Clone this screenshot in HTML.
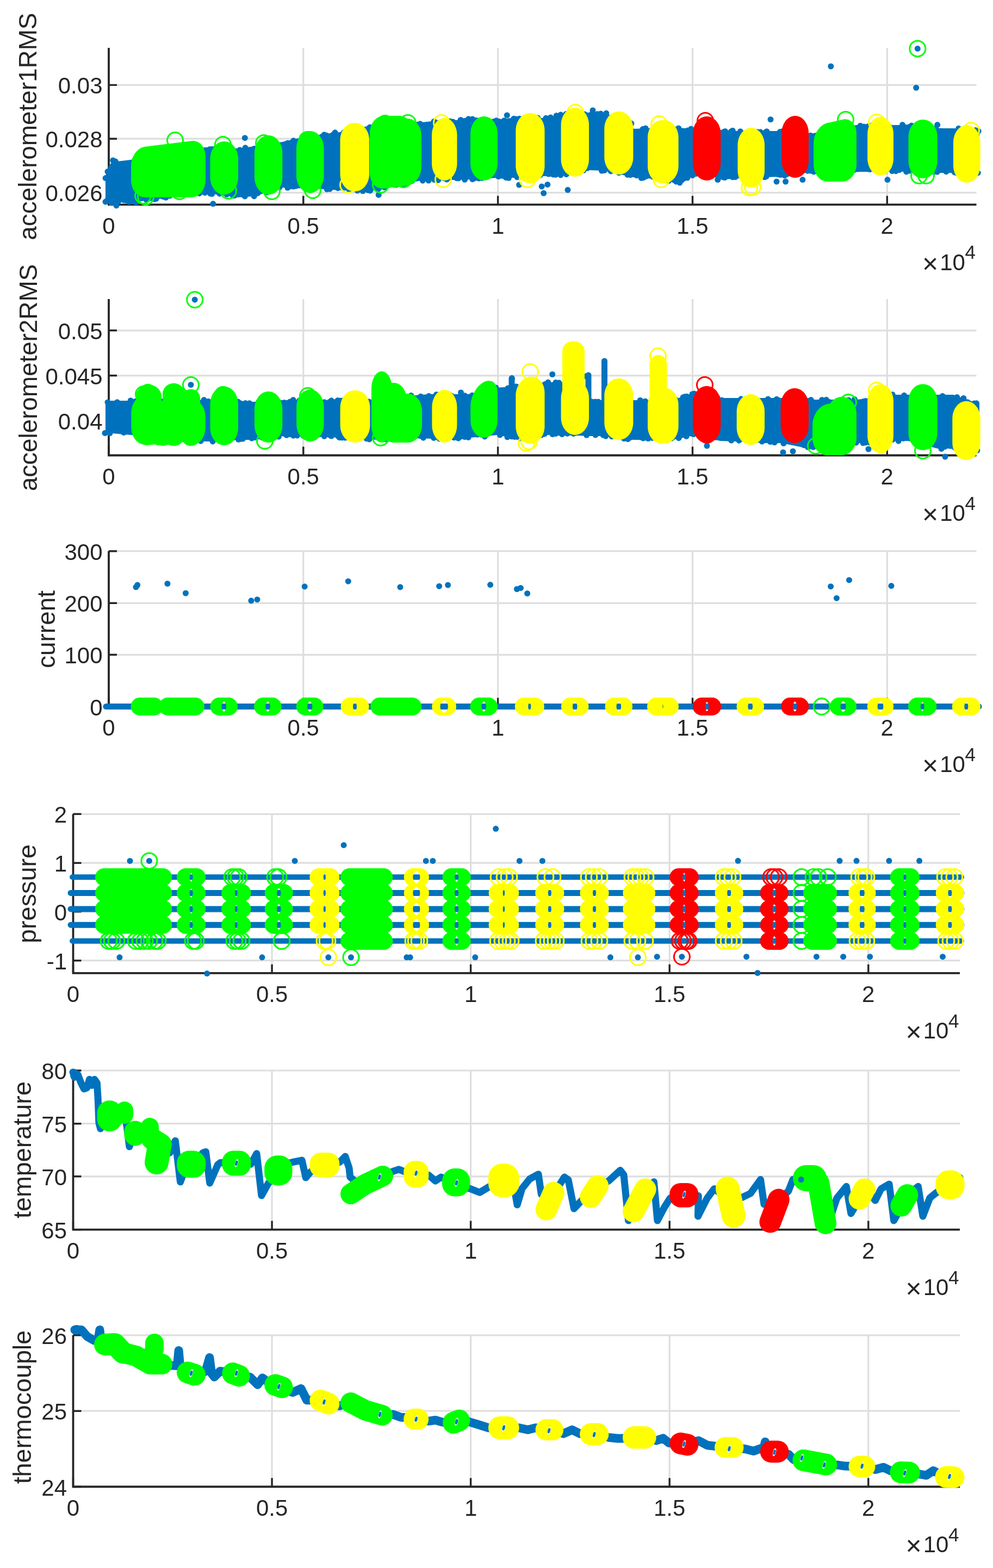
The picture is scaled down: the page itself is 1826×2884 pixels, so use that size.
<!DOCTYPE html>
<html><head><meta charset="utf-8"><title>figure</title>
<style>html,body{margin:0;padding:0;background:#fff;}svg{display:block;}</style></head>
<body><svg width="1826" height="2884" viewBox="0 0 1826 2884" font-family="'Liberation Sans', Arial, Helvetica, sans-serif">
<rect width="1826" height="2884" fill="#fff"/>
<g stroke="#dedede" stroke-width="3.2"><line x1="557.8" y1="88" x2="557.8" y2="376.3" /><line x1="915.6" y1="88" x2="915.6" y2="376.3" /><line x1="1273.5" y1="88" x2="1273.5" y2="376.3" /><line x1="1631.3" y1="88" x2="1631.3" y2="376.3" /><line x1="200" y1="354.4" x2="1795.5" y2="354.4" /><line x1="200" y1="255.2" x2="1795.5" y2="255.2" /><line x1="200" y1="156.4" x2="1795.5" y2="156.4" /></g>
<g stroke="#262626"><path d="M200,88V376.3H1795.5" fill="none" stroke-width="3.8" stroke-linejoin="miter" stroke-linecap="butt"/><path d="M200,354.4h15M200,255.2h15M200,156.4h15M200.0,376.3v-16M557.8,376.3v-16M915.6,376.3v-16M1273.5,376.3v-16M1631.3,376.3v-16" fill="none" stroke-width="3.4"/></g>
<path d="M194,323 200,305 206,298 240,294 300,277 378,271 386,271 438,273 468,269 519,261 545,255 595,247 625,243 680,231 775,225 794,223 840,221 865,219 915,220 948,217 1001,217 1031,211 1083,207 1111,210 1140,227 1164,237 1191,236 1247,235 1274,237 1325,239 1356,241 1406,241 1437,241 1487,247 1496,245 1575,230 1595,230 1643,230 1670,230 1724,236 1753,236 1801,238 L1801,319 1753,318 1724,318 1670,316 1643,315 1595,316 1575,316 1487,316 1437,325 1406,326 1356,326 1325,326 1274,323 1247,335 1191,328 1164,326 1111,314 1083,313 1031,322 1001,324 948,327 915,327 865,330 840,331 794,331 775,332 730,341 680,352 625,350 595,348 545,345 519,345 468,361 438,363 386,356 378,356 300,365 240,371 194,373Z" fill="#0072bd"/>
<g fill="#0072bd"><circle cx="194.1" cy="327.6" r="5.5"/><circle cx="194" cy="371.2" r="5.5"/><circle cx="198" cy="315.6" r="5.5"/><circle cx="197.3" cy="368.3" r="5.5"/><circle cx="204.9" cy="372.9" r="5.5"/><circle cx="208.6" cy="370.2" r="5.5"/><circle cx="212.3" cy="296.9" r="5.5"/><circle cx="212.7" cy="371.8" r="5.5"/><circle cx="218.2" cy="369.5" r="5.5"/><circle cx="227.8" cy="368.1" r="5.5"/><circle cx="232.4" cy="368.5" r="5.5"/><circle cx="237.9" cy="371.1" r="5.5"/><circle cx="242.5" cy="369.1" r="5.5"/><circle cx="248.7" cy="292.6" r="5.5"/><circle cx="255" cy="289.7" r="5.5"/><circle cx="256.1" cy="365.4" r="5.5"/><circle cx="260.1" cy="291.6" r="5.5"/><circle cx="261" cy="364.6" r="5.5"/><circle cx="265" cy="291.6" r="5.5"/><circle cx="269.4" cy="367.7" r="5.5"/><circle cx="276.2" cy="284.7" r="5.5"/><circle cx="275.8" cy="364.3" r="5.5"/><circle cx="278.6" cy="285.5" r="5.5"/><circle cx="279.6" cy="364.1" r="5.5"/><circle cx="284.4" cy="366.3" r="5.5"/><circle cx="288.8" cy="284.4" r="5.5"/><circle cx="287.3" cy="365.3" r="5.5"/><circle cx="295.6" cy="282.8" r="5.5"/><circle cx="298.5" cy="282" r="5.5"/><circle cx="299.8" cy="361.5" r="5.5"/><circle cx="305" cy="363.3" r="5.5"/><circle cx="309.1" cy="280.5" r="5.5"/><circle cx="312.1" cy="360" r="5.5"/><circle cx="317.2" cy="277.2" r="5.5"/><circle cx="322.2" cy="280.2" r="5.5"/><circle cx="326.2" cy="357" r="5.5"/><circle cx="337.4" cy="357.5" r="5.5"/><circle cx="344" cy="277.2" r="5.5"/><circle cx="356.9" cy="277.1" r="5.5"/><circle cx="366.6" cy="355.7" r="5.5"/><circle cx="376.8" cy="354.4" r="5.5"/><circle cx="381.6" cy="351.2" r="5.5"/><circle cx="385.9" cy="274.4" r="5.5"/><circle cx="386.7" cy="356.1" r="5.5"/><circle cx="390.1" cy="274.4" r="5.5"/><circle cx="389.8" cy="356.6" r="5.5"/><circle cx="396.9" cy="272.7" r="5.5"/><circle cx="400.5" cy="276.1" r="5.5"/><circle cx="403.7" cy="356.2" r="5.5"/><circle cx="416.9" cy="274.2" r="5.5"/><circle cx="417" cy="357.5" r="5.5"/><circle cx="422.7" cy="276.5" r="5.5"/><circle cx="427" cy="276.9" r="5.5"/><circle cx="428.3" cy="359.8" r="5.5"/><circle cx="431.4" cy="359.7" r="5.5"/><circle cx="434.5" cy="357.9" r="5.5"/><circle cx="441" cy="275.7" r="5.5"/><circle cx="447.6" cy="358.3" r="5.5"/><circle cx="451.1" cy="271.8" r="5.5"/><circle cx="450.3" cy="361" r="5.5"/><circle cx="467.4" cy="273.6" r="5.5"/><circle cx="467.3" cy="360.9" r="5.5"/><circle cx="473.7" cy="355.4" r="5.5"/><circle cx="485.9" cy="271.2" r="5.5"/><circle cx="491.1" cy="353.7" r="5.5"/><circle cx="494.5" cy="267.3" r="5.5"/><circle cx="500.2" cy="263.9" r="5.5"/><circle cx="503.9" cy="263.7" r="5.5"/><circle cx="503.3" cy="348.9" r="5.5"/><circle cx="514.1" cy="344.3" r="5.5"/><circle cx="528.8" cy="263.3" r="5.5"/><circle cx="528.8" cy="345.3" r="5.5"/><circle cx="533.3" cy="342.8" r="5.5"/><circle cx="539.6" cy="258.8" r="5.5"/><circle cx="539.3" cy="343.1" r="5.5"/><circle cx="543.7" cy="342.3" r="5.5"/><circle cx="550.4" cy="341" r="5.5"/><circle cx="559.5" cy="255.5" r="5.5"/><circle cx="563" cy="342.4" r="5.5"/><circle cx="569.1" cy="254" r="5.5"/><circle cx="569.8" cy="342.1" r="5.5"/><circle cx="573.8" cy="252.7" r="5.5"/><circle cx="574.1" cy="344" r="5.5"/><circle cx="578.9" cy="252.5" r="5.5"/><circle cx="591.5" cy="251.6" r="5.5"/><circle cx="596.2" cy="247.7" r="5.5"/><circle cx="601.3" cy="249.6" r="5.5"/><circle cx="601.1" cy="348" r="5.5"/><circle cx="606.4" cy="347.5" r="5.5"/><circle cx="610" cy="249.6" r="5.5"/><circle cx="613.6" cy="246.9" r="5.5"/><circle cx="616.1" cy="243.8" r="5.5"/><circle cx="621.3" cy="345.9" r="5.5"/><circle cx="632.5" cy="243.6" r="5.5"/><circle cx="636" cy="242.5" r="5.5"/><circle cx="643.2" cy="240.9" r="5.5"/><circle cx="642.1" cy="348.5" r="5.5"/><circle cx="657.2" cy="350.6" r="5.5"/><circle cx="667.2" cy="351.3" r="5.5"/><circle cx="676.5" cy="349.5" r="5.5"/><circle cx="680.1" cy="234" r="5.5"/><circle cx="680.7" cy="350.7" r="5.5"/><circle cx="690.3" cy="233.4" r="5.5"/><circle cx="695.6" cy="347.7" r="5.5"/><circle cx="698.5" cy="230.4" r="5.5"/><circle cx="698.6" cy="344.1" r="5.5"/><circle cx="706.9" cy="344.4" r="5.5"/><circle cx="719.4" cy="339.2" r="5.5"/><circle cx="725.3" cy="339.5" r="5.5"/><circle cx="729.1" cy="339.7" r="5.5"/><circle cx="735.2" cy="228.7" r="5.5"/><circle cx="734.3" cy="335.3" r="5.5"/><circle cx="739.2" cy="338.4" r="5.5"/><circle cx="744.9" cy="338.4" r="5.5"/><circle cx="749.8" cy="230.1" r="5.5"/><circle cx="749.8" cy="336.7" r="5.5"/><circle cx="754.6" cy="228.3" r="5.5"/><circle cx="753.4" cy="334" r="5.5"/><circle cx="758.1" cy="228.1" r="5.5"/><circle cx="758" cy="332.7" r="5.5"/><circle cx="764.9" cy="230.4" r="5.5"/><circle cx="768.7" cy="229.3" r="5.5"/><circle cx="772.7" cy="227.8" r="5.5"/><circle cx="777.3" cy="332.2" r="5.5"/><circle cx="783.6" cy="328" r="5.5"/><circle cx="789.3" cy="326.7" r="5.5"/><circle cx="798" cy="223.5" r="5.5"/><circle cx="798.6" cy="330.6" r="5.5"/><circle cx="802" cy="225.6" r="5.5"/><circle cx="804.7" cy="226.5" r="5.5"/><circle cx="805.5" cy="331.4" r="5.5"/><circle cx="810" cy="226.9" r="5.5"/><circle cx="809.3" cy="326.5" r="5.5"/><circle cx="815.2" cy="224.6" r="5.5"/><circle cx="816.4" cy="327.6" r="5.5"/><circle cx="821.5" cy="224.9" r="5.5"/><circle cx="821.7" cy="330" r="5.5"/><circle cx="827.2" cy="223" r="5.5"/><circle cx="832.8" cy="224" r="5.5"/><circle cx="839.7" cy="327.7" r="5.5"/><circle cx="844.3" cy="225.1" r="5.5"/><circle cx="843.1" cy="327.9" r="5.5"/><circle cx="847.6" cy="220.9" r="5.5"/><circle cx="854.7" cy="222.5" r="5.5"/><circle cx="854.6" cy="330.3" r="5.5"/><circle cx="858.2" cy="222" r="5.5"/><circle cx="868.9" cy="219" r="5.5"/><circle cx="868.8" cy="329.7" r="5.5"/><circle cx="872.1" cy="328.2" r="5.5"/><circle cx="876.1" cy="221.6" r="5.5"/><circle cx="881.1" cy="222.5" r="5.5"/><circle cx="880.3" cy="328.1" r="5.5"/><circle cx="886.7" cy="327.4" r="5.5"/><circle cx="908.1" cy="223.5" r="5.5"/><circle cx="912.7" cy="221.8" r="5.5"/><circle cx="914.2" cy="322.4" r="5.5"/><circle cx="917.8" cy="223.5" r="5.5"/><circle cx="916.6" cy="324.5" r="5.5"/><circle cx="922.1" cy="323" r="5.5"/><circle cx="927.1" cy="221.7" r="5.5"/><circle cx="926.1" cy="323.5" r="5.5"/><circle cx="930.5" cy="326.5" r="5.5"/><circle cx="936.1" cy="222.7" r="5.5"/><circle cx="935.4" cy="327.3" r="5.5"/><circle cx="939.3" cy="222.4" r="5.5"/><circle cx="944.8" cy="218.3" r="5.5"/><circle cx="949.4" cy="219.1" r="5.5"/><circle cx="951" cy="325.8" r="5.5"/><circle cx="955.2" cy="218.3" r="5.5"/><circle cx="956.6" cy="324.4" r="5.5"/><circle cx="961.5" cy="322.1" r="5.5"/><circle cx="968.1" cy="221.2" r="5.5"/><circle cx="971.2" cy="217" r="5.5"/><circle cx="970.7" cy="326" r="5.5"/><circle cx="976.7" cy="322.7" r="5.5"/><circle cx="983.5" cy="217.6" r="5.5"/><circle cx="982.9" cy="320.9" r="5.5"/><circle cx="988.8" cy="216.9" r="5.5"/><circle cx="989.1" cy="323.6" r="5.5"/><circle cx="993.4" cy="322" r="5.5"/><circle cx="1003.9" cy="217.3" r="5.5"/><circle cx="1009.3" cy="219.4" r="5.5"/><circle cx="1008.6" cy="320.1" r="5.5"/><circle cx="1012.4" cy="216" r="5.5"/><circle cx="1013.2" cy="319.6" r="5.5"/><circle cx="1017.5" cy="321.1" r="5.5"/><circle cx="1023.2" cy="212.7" r="5.5"/><circle cx="1021.7" cy="321.3" r="5.5"/><circle cx="1028.2" cy="215.6" r="5.5"/><circle cx="1031" cy="211.1" r="5.5"/><circle cx="1030.9" cy="321.9" r="5.5"/><circle cx="1036.7" cy="214.3" r="5.5"/><circle cx="1040.8" cy="209.8" r="5.5"/><circle cx="1041.4" cy="320.7" r="5.5"/><circle cx="1049.9" cy="212.6" r="5.5"/><circle cx="1050" cy="316.5" r="5.5"/><circle cx="1065.2" cy="208.6" r="5.5"/><circle cx="1072.6" cy="211.9" r="5.5"/><circle cx="1073" cy="313.3" r="5.5"/><circle cx="1075.4" cy="210.2" r="5.5"/><circle cx="1080.2" cy="309.2" r="5.5"/><circle cx="1087.9" cy="209.9" r="5.5"/><circle cx="1093.2" cy="213" r="5.5"/><circle cx="1098.4" cy="209.7" r="5.5"/><circle cx="1104.6" cy="209.1" r="5.5"/><circle cx="1106.5" cy="314" r="5.5"/><circle cx="1111.5" cy="213.6" r="5.5"/><circle cx="1111.3" cy="313.4" r="5.5"/><circle cx="1114.1" cy="212.2" r="5.5"/><circle cx="1114.3" cy="310.7" r="5.5"/><circle cx="1119.4" cy="216.2" r="5.5"/><circle cx="1123.3" cy="314.9" r="5.5"/><circle cx="1127.5" cy="222.8" r="5.5"/><circle cx="1134.3" cy="227.2" r="5.5"/><circle cx="1138.1" cy="230.3" r="5.5"/><circle cx="1138" cy="317.5" r="5.5"/><circle cx="1143.7" cy="232.4" r="5.5"/><circle cx="1154" cy="321.4" r="5.5"/><circle cx="1158.8" cy="238.5" r="5.5"/><circle cx="1159.2" cy="321.7" r="5.5"/><circle cx="1163.4" cy="241.5" r="5.5"/><circle cx="1170.6" cy="322.7" r="5.5"/><circle cx="1179.4" cy="327.4" r="5.5"/><circle cx="1181.9" cy="237.6" r="5.5"/><circle cx="1183.1" cy="326.8" r="5.5"/><circle cx="1187.1" cy="235.9" r="5.5"/><circle cx="1187.7" cy="324.4" r="5.5"/><circle cx="1196.4" cy="240.5" r="5.5"/><circle cx="1200.5" cy="325.1" r="5.5"/><circle cx="1207.4" cy="326.1" r="5.5"/><circle cx="1212.9" cy="239.1" r="5.5"/><circle cx="1214.4" cy="330.6" r="5.5"/><circle cx="1219.9" cy="240.1" r="5.5"/><circle cx="1218.6" cy="327.8" r="5.5"/><circle cx="1223.1" cy="328.4" r="5.5"/><circle cx="1229.7" cy="332.7" r="5.5"/><circle cx="1234.3" cy="239.8" r="5.5"/><circle cx="1239.8" cy="331.4" r="5.5"/><circle cx="1243" cy="237.9" r="5.5"/><circle cx="1243.5" cy="334" r="5.5"/><circle cx="1247.8" cy="235.9" r="5.5"/><circle cx="1247.4" cy="330.9" r="5.5"/><circle cx="1253.8" cy="331.1" r="5.5"/><circle cx="1257.8" cy="328" r="5.5"/><circle cx="1264.3" cy="240.1" r="5.5"/><circle cx="1264" cy="327.1" r="5.5"/><circle cx="1270.7" cy="237.1" r="5.5"/><circle cx="1273.3" cy="322.5" r="5.5"/><circle cx="1279.5" cy="319.5" r="5.5"/><circle cx="1283.9" cy="240.2" r="5.5"/><circle cx="1289.5" cy="319" r="5.5"/><circle cx="1295" cy="238.8" r="5.5"/><circle cx="1302.9" cy="321.5" r="5.5"/><circle cx="1307" cy="240.7" r="5.5"/><circle cx="1307" cy="320.4" r="5.5"/><circle cx="1312.6" cy="238.9" r="5.5"/><circle cx="1319.2" cy="322.7" r="5.5"/><circle cx="1323.2" cy="325.1" r="5.5"/><circle cx="1330.1" cy="242.9" r="5.5"/><circle cx="1329.7" cy="325.9" r="5.5"/><circle cx="1333.4" cy="241.4" r="5.5"/><circle cx="1332.8" cy="326.5" r="5.5"/><circle cx="1339.3" cy="324" r="5.5"/><circle cx="1344.7" cy="241.7" r="5.5"/><circle cx="1344.8" cy="324.4" r="5.5"/><circle cx="1347.2" cy="240.2" r="5.5"/><circle cx="1347.3" cy="325.8" r="5.5"/><circle cx="1352.1" cy="325.6" r="5.5"/><circle cx="1356.5" cy="322" r="5.5"/><circle cx="1361.4" cy="241.7" r="5.5"/><circle cx="1361.6" cy="323.5" r="5.5"/><circle cx="1372" cy="244.3" r="5.5"/><circle cx="1372.4" cy="321.1" r="5.5"/><circle cx="1376.3" cy="245.6" r="5.5"/><circle cx="1379.9" cy="245.7" r="5.5"/><circle cx="1381.2" cy="325" r="5.5"/><circle cx="1386.9" cy="242.6" r="5.5"/><circle cx="1388" cy="322.8" r="5.5"/><circle cx="1392.4" cy="242.7" r="5.5"/><circle cx="1392.4" cy="321.8" r="5.5"/><circle cx="1398.3" cy="242.8" r="5.5"/><circle cx="1398" cy="324.9" r="5.5"/><circle cx="1405.9" cy="244.4" r="5.5"/><circle cx="1406.1" cy="325.8" r="5.5"/><circle cx="1409.9" cy="241.7" r="5.5"/><circle cx="1409.3" cy="324.3" r="5.5"/><circle cx="1430.7" cy="320.7" r="5.5"/><circle cx="1434.2" cy="242.6" r="5.5"/><circle cx="1435.1" cy="321.6" r="5.5"/><circle cx="1438.7" cy="241.6" r="5.5"/><circle cx="1442.4" cy="243.5" r="5.5"/><circle cx="1442.9" cy="322.8" r="5.5"/><circle cx="1447.7" cy="320" r="5.5"/><circle cx="1450.3" cy="244.9" r="5.5"/><circle cx="1455.5" cy="242.9" r="5.5"/><circle cx="1456.8" cy="319.7" r="5.5"/><circle cx="1460" cy="319.2" r="5.5"/><circle cx="1467.1" cy="249.3" r="5.5"/><circle cx="1472.2" cy="315.1" r="5.5"/><circle cx="1479.6" cy="312.7" r="5.5"/><circle cx="1481.9" cy="247.9" r="5.5"/><circle cx="1485.3" cy="250.1" r="5.5"/><circle cx="1484.9" cy="314.2" r="5.5"/><circle cx="1490.4" cy="249.3" r="5.5"/><circle cx="1490.7" cy="314.1" r="5.5"/><circle cx="1496.5" cy="315.9" r="5.5"/><circle cx="1510.5" cy="313" r="5.5"/><circle cx="1514" cy="312.4" r="5.5"/><circle cx="1518.9" cy="240.9" r="5.5"/><circle cx="1518" cy="311.6" r="5.5"/><circle cx="1524.6" cy="243.3" r="5.5"/><circle cx="1524" cy="315.8" r="5.5"/><circle cx="1530.7" cy="240.6" r="5.5"/><circle cx="1536.2" cy="312.8" r="5.5"/><circle cx="1546.8" cy="314.4" r="5.5"/><circle cx="1552.5" cy="314.7" r="5.5"/><circle cx="1555.6" cy="236.2" r="5.5"/><circle cx="1563.9" cy="234" r="5.5"/><circle cx="1570.4" cy="312.6" r="5.5"/><circle cx="1576.9" cy="311.1" r="5.5"/><circle cx="1582.1" cy="231.2" r="5.5"/><circle cx="1588.5" cy="232.9" r="5.5"/><circle cx="1596" cy="232.5" r="5.5"/><circle cx="1598.5" cy="234.6" r="5.5"/><circle cx="1599.2" cy="311.6" r="5.5"/><circle cx="1603.7" cy="230.3" r="5.5"/><circle cx="1607.6" cy="231.5" r="5.5"/><circle cx="1606.7" cy="311.1" r="5.5"/><circle cx="1613.4" cy="230.5" r="5.5"/><circle cx="1615.2" cy="311.7" r="5.5"/><circle cx="1620.5" cy="233.9" r="5.5"/><circle cx="1619.8" cy="313.5" r="5.5"/><circle cx="1627.2" cy="315.1" r="5.5"/><circle cx="1633.9" cy="233.5" r="5.5"/><circle cx="1632.3" cy="311.1" r="5.5"/><circle cx="1636.5" cy="233.6" r="5.5"/><circle cx="1636.8" cy="310.2" r="5.5"/><circle cx="1640.7" cy="314.5" r="5.5"/><circle cx="1647.4" cy="314.7" r="5.5"/><circle cx="1653.7" cy="312.6" r="5.5"/><circle cx="1659.5" cy="229.6" r="5.5"/><circle cx="1662.3" cy="233.1" r="5.5"/><circle cx="1666.6" cy="315.9" r="5.5"/><circle cx="1671" cy="233.7" r="5.5"/><circle cx="1671.8" cy="314.1" r="5.5"/><circle cx="1676.2" cy="231.1" r="5.5"/><circle cx="1676.9" cy="311.3" r="5.5"/><circle cx="1681.7" cy="233.8" r="5.5"/><circle cx="1686.4" cy="312.2" r="5.5"/><circle cx="1693.7" cy="233.2" r="5.5"/><circle cx="1693.2" cy="312.8" r="5.5"/><circle cx="1700.9" cy="238.4" r="5.5"/><circle cx="1701.5" cy="314.2" r="5.5"/><circle cx="1707" cy="238.5" r="5.5"/><circle cx="1712.4" cy="234.8" r="5.5"/><circle cx="1718.4" cy="237.1" r="5.5"/><circle cx="1717.5" cy="316.1" r="5.5"/><circle cx="1722.4" cy="238.9" r="5.5"/><circle cx="1723.5" cy="316.2" r="5.5"/><circle cx="1730" cy="241" r="5.5"/><circle cx="1739.9" cy="315.7" r="5.5"/><circle cx="1755.4" cy="316.9" r="5.5"/><circle cx="1758.7" cy="317.9" r="5.5"/><circle cx="1762.7" cy="236.3" r="5.5"/><circle cx="1768.1" cy="240.5" r="5.5"/><circle cx="1775.5" cy="240.8" r="5.5"/><circle cx="1774.4" cy="314" r="5.5"/><circle cx="1778.6" cy="241.1" r="5.5"/><circle cx="1777.2" cy="315.7" r="5.5"/><circle cx="1787.8" cy="318.5" r="5.5"/><circle cx="1793.8" cy="239.6" r="5.5"/><circle cx="1793.1" cy="315.6" r="5.5"/><circle cx="1799.1" cy="241.2" r="5.5"/><circle cx="1798.2" cy="317.8" r="5.5"/></g>
<g fill="#0072bd"><circle cx="207.7" cy="295" r="5.5"/><circle cx="391.8" cy="374.8" r="5.5"/><circle cx="450.3" cy="253.7" r="5.5"/><circle cx="696.2" cy="358.4" r="5.5"/><circle cx="788" cy="332" r="5.5"/><circle cx="847" cy="220.7" r="5.5"/><circle cx="861.5" cy="218.8" r="5.5"/><circle cx="932.3" cy="212" r="5.5"/><circle cx="954.6" cy="340" r="5.5"/><circle cx="996.2" cy="342.9" r="5.5"/><circle cx="1006.8" cy="339.4" r="5.5"/><circle cx="999.7" cy="355.3" r="5.5"/><circle cx="1044" cy="349.3" r="5.5"/><circle cx="1090" cy="203" r="5.5"/><circle cx="1114.8" cy="208.3" r="5.5"/><circle cx="1160.9" cy="227.1" r="5.5"/><circle cx="1319.8" cy="330.6" r="5.5"/><circle cx="1417" cy="219.7" r="5.5"/><circle cx="1428" cy="334" r="5.5"/><circle cx="1444.6" cy="334" r="5.5"/><circle cx="1475.9" cy="330.6" r="5.5"/><circle cx="1632" cy="330.6" r="5.5"/><circle cx="1723.7" cy="229.6" r="5.5"/><circle cx="1527.8" cy="122" r="5.5"/><circle cx="1684.7" cy="161.3" r="5.5"/><circle cx="1687.3" cy="89.4" r="5.5"/><circle cx="205" cy="372" r="5.5"/><circle cx="214" cy="378" r="5.5"/><circle cx="250" cy="372" r="5.5"/><circle cx="1250" cy="336" r="5.5"/></g>
<path d="M241,305C241,287.3 252.6,271.6 267,269.8L352,259.2C366.4,257.4 378,270.3 378,288L378,331C378,348.7 366.4,363 352,363L267,363C252.6,363 241,348.7 241,331Z" fill="#00ff00"/>
<path d="M386.5,292C386.5,274.3 398,260 412.2,260L412.2,260C426.5,260 438,274.3 438,292L438,326C438,343.7 426.5,358 412.2,358L412.2,358C398,358 386.5,343.7 386.5,326Z" fill="#00ff00"/>
<path d="M468,281C468,263.3 479.5,249 493.6,249L493.6,249C507.8,249 519.3,263.3 519.3,281L519.3,326C519.3,343.7 507.8,358 493.6,358L493.6,358C479.5,358 468,343.7 468,326Z" fill="#00ff00"/>
<path d="M545,273C545,255.3 556.3,241 570.2,241L570.2,241C584.2,241 595.5,255.3 595.5,273L595.5,323C595.5,340.7 584.2,355 570.2,355L570.2,355C556.3,355 545,340.7 545,323Z" fill="#00ff00"/>
<path d="M625.5,258C625.5,240.3 637.1,226 651.5,226L653,226C667.4,226 679,240.3 679,258L679,320C679,337.7 667.4,352 653,352L651.5,352C637.1,352 625.5,337.7 625.5,320Z" fill="#ffff00"/>
<path d="M680,250C680,232.3 691.6,218 706,218L749,218C763.4,218 775,232.3 775,250L775,306C775,323.7 763.4,339.5 749,341.3L706,346.7C691.6,348.5 680,335.7 680,318Z" fill="#00ff00"/>
<path d="M794,249C794,231.3 804.4,217 817.2,217L817.2,217C830.1,217 840.5,231.3 840.5,249L840.5,300C840.5,317.7 830.1,332 817.2,332L817.2,332C804.4,332 794,317.7 794,300Z" fill="#ffff00"/>
<path d="M865,246C865,228.3 876.2,214 890,214L890,214C903.8,214 915,228.3 915,246L915,300C915,317.7 903.8,332 890,332L890,332C876.2,332 865,317.7 865,300Z" fill="#00ff00"/>
<path d="M948.4,240C948.4,222.3 960,208 974.4,208L975.5,208C989.9,208 1001.5,222.3 1001.5,240L1001.5,305C1001.5,322.7 989.9,337 975.5,337L974.4,337C960,337 948.4,322.7 948.4,305Z" fill="#ffff00"/>
<path d="M680,245C680,227.3 691.6,213 706,213L734,213C748.4,213 760,227.3 760,245L760,268C760,285.7 748.4,300 734,300L706,300C691.6,300 680,285.7 680,268Z" fill="#00ff00"/>
<path d="M1031.6,230C1031.6,212.3 1043.1,198 1057.3,198L1057.3,198C1071.5,198 1083,212.3 1083,230L1083,293C1083,310.7 1071.5,325 1057.3,325L1057.3,325C1043.1,325 1031.6,310.7 1031.6,293Z" fill="#ffff00"/>
<path d="M1111.3,237C1111.3,219.3 1122.9,205 1137.3,205L1138.4,205C1152.8,205 1164.4,219.3 1164.4,237L1164.4,289C1164.4,306.7 1152.8,321 1138.4,321L1137.3,321C1122.9,321 1111.3,306.7 1111.3,289Z" fill="#ffff00"/>
<path d="M1191,253C1191,235.3 1202.6,221 1217,221L1221.6,221C1236,221 1247.6,235.3 1247.6,253L1247.6,305C1247.6,322.7 1236,337 1221.6,337L1217,337C1202.6,337 1191,322.7 1191,305Z" fill="#ffff00"/>
<path d="M1274,246C1274,228.3 1285.5,214 1299.7,214L1299.7,214C1313.8,214 1325.3,228.3 1325.3,246L1325.3,300C1325.3,317.7 1313.8,332 1299.7,332L1299.7,332C1285.5,332 1274,317.7 1274,300Z" fill="#ff0000"/>
<path d="M1356.5,267C1356.5,249.3 1367.6,235 1381.2,235L1381.2,235C1394.9,235 1406,249.3 1406,267L1406,313C1406,330.7 1394.9,345 1381.2,345L1381.2,345C1367.6,345 1356.5,330.7 1356.5,313Z" fill="#ffff00"/>
<path d="M1437.3,245C1437.3,227.3 1448.4,213 1462.2,213L1462.2,213C1475.9,213 1487,227.3 1487,245L1487,295C1487,312.7 1475.9,327 1462.2,327L1462.2,327C1448.4,327 1437.3,312.7 1437.3,295Z" fill="#ff0000"/>
<path d="M1496,264C1496,246.3 1507.6,229.3 1522,226.1L1549,219.9C1563.4,216.7 1575,228.3 1575,246L1575,302C1575,319.7 1563.4,334 1549,334L1522,334C1507.6,334 1496,319.7 1496,302Z" fill="#00ff00"/>
<path d="M1595.2,247C1595.2,229.3 1605.9,215 1619.1,215L1619.1,215C1632.3,215 1643,229.3 1643,247L1643,291C1643,308.7 1632.3,323 1619.1,323L1619.1,323C1605.9,323 1595.2,308.7 1595.2,291Z" fill="#ffff00"/>
<path d="M1670.5,252C1670.5,234.3 1682.1,220 1696.5,220L1697.7,220C1712.1,220 1723.7,234.3 1723.7,252L1723.7,296C1723.7,313.7 1712.1,328 1697.7,328L1696.5,328C1682.1,328 1670.5,313.7 1670.5,296Z" fill="#00ff00"/>
<path d="M1753,262C1753,244.3 1764.1,230 1777.8,230L1777.8,230C1791.6,230 1802.7,244.3 1802.7,262L1802.7,304C1802.7,321.7 1791.6,336 1777.8,336L1777.8,336C1764.1,336 1753,321.7 1753,304Z" fill="#ffff00"/>
<g fill="none" stroke="#00ff00" stroke-width="3"><circle cx="322" cy="258" r="14.5"/><circle cx="263" cy="360" r="14.5"/><circle cx="268" cy="362" r="14.5"/><circle cx="330" cy="352" r="14.5"/><circle cx="420" cy="351" r="14.5"/><circle cx="410" cy="266" r="14.5"/><circle cx="500" cy="352" r="14.5"/><circle cx="485" cy="263" r="14.5"/><circle cx="565" cy="257" r="14.5"/><circle cx="575" cy="350" r="14.5"/><circle cx="708" cy="227" r="14.5"/><circle cx="750" cy="226" r="14.5"/><circle cx="700" cy="340" r="14.5"/><circle cx="742" cy="330" r="14.5"/><circle cx="1555" cy="220" r="14.5"/><circle cx="1690" cy="323" r="14.5"/><circle cx="1687.3" cy="89.4" r="14.5"/><circle cx="1703" cy="323" r="14.5"/></g>
<g fill="none" stroke="#ffff00" stroke-width="3"><circle cx="640" cy="340" r="14.5"/><circle cx="815" cy="330" r="14.5"/><circle cx="812" cy="226" r="14.5"/><circle cx="970" cy="330" r="14.5"/><circle cx="1058" cy="207" r="14.5"/><circle cx="1216" cy="330" r="14.5"/><circle cx="1378" cy="345" r="14.5"/><circle cx="1384" cy="344" r="14.5"/><circle cx="1612" cy="225" r="14.5"/><circle cx="1786" cy="240" r="14.5"/><circle cx="1212" cy="228" r="14.5"/></g>
<g fill="none" stroke="#ff0000" stroke-width="3"><circle cx="1297" cy="222" r="14.5"/></g>
<g font-size="42" fill="#262626"><text x="188.5" y="370.4" text-anchor="end">0.026</text><text x="188.5" y="271.2" text-anchor="end">0.028</text><text x="188.5" y="172.4" text-anchor="end">0.03</text><text x="200.0" y="429.8" text-anchor="middle">0</text><text x="557.8" y="429.8" text-anchor="middle">0.5</text><text x="915.6" y="429.8" text-anchor="middle">1</text><text x="1273.5" y="429.8" text-anchor="middle">1.5</text><text x="1631.3" y="429.8" text-anchor="middle">2</text><text x="1696.0" y="501.8" font-size="50">×</text><text x="1728.2" y="496.8">10</text><text x="1774.5" y="476.3" font-size="35">4</text><text transform="translate(66.8,232.6) rotate(-90)" text-anchor="middle" font-size="46" textLength="418.1" lengthAdjust="spacingAndGlyphs">accelerometer1RMS</text></g>
<g stroke="#dedede" stroke-width="3.2"><line x1="557.8" y1="550" x2="557.8" y2="837.5" /><line x1="915.6" y1="550" x2="915.6" y2="837.5" /><line x1="1273.5" y1="550" x2="1273.5" y2="837.5" /><line x1="1631.3" y1="550" x2="1631.3" y2="837.5" /><line x1="200" y1="773.8" x2="1795.5" y2="773.8" /><line x1="200" y1="690.8" x2="1795.5" y2="690.8" /><line x1="200" y1="607.8" x2="1795.5" y2="607.8" /></g>
<g stroke="#262626"><path d="M200,550V837.5H1795.5" fill="none" stroke-width="3.8" stroke-linejoin="miter" stroke-linecap="butt"/><path d="M200,773.8h15M200,690.8h15M200,607.8h15M200.0,837.5v-16M557.8,837.5v-16M915.6,837.5v-16M1273.5,837.5v-16M1631.3,837.5v-16" fill="none" stroke-width="3.4"/></g>
<path d="M194,741 200,737 241,737 300,736 378,736 386,736 438,739 468,739 519,736 545,736 595,737 625,737 680,735 775,726 794,725 840,725 865,725 912,713 948,711 1001,703 1031,703 1083,736 1111,736 1164,736 1191,736 1248,732 1274,723 1325,732 1356,732 1406,732 1437,732 1487,732 1494,735 1575,735 1595,733 1643,726 1670,726 1724,726 1753,726 1801,743 L1801,833 1753,825 1724,825 1670,811 1643,811 1595,815 1575,815 1494,826 1487,825 1437,815 1406,815 1356,812 1325,811 1274,801 1248,807 1191,809 1164,809 1111,802 1083,802 1031,800 1001,800 948,807 915,800 865,805 840,807 794,807 775,806 680,809 625,805 595,803 545,802 519,802 468,809 438,809 386,812 378,812 300,807 241,800 194,796Z" fill="#0072bd"/>
<g fill="#0072bd"><circle cx="193" cy="796.5" r="5.5"/><circle cx="198" cy="739.9" r="5.5"/><circle cx="201.9" cy="796.8" r="5.5"/><circle cx="215.5" cy="739.7" r="5.5"/><circle cx="227.6" cy="795.5" r="5.5"/><circle cx="240.2" cy="736.7" r="5.5"/><circle cx="245" cy="740.1" r="5.5"/><circle cx="249.6" cy="738" r="5.5"/><circle cx="254.9" cy="739.2" r="5.5"/><circle cx="255.6" cy="798.6" r="5.5"/><circle cx="260.2" cy="741.4" r="5.5"/><circle cx="259.1" cy="797.7" r="5.5"/><circle cx="266" cy="738" r="5.5"/><circle cx="265.6" cy="799" r="5.5"/><circle cx="269.6" cy="739.6" r="5.5"/><circle cx="269.4" cy="798.6" r="5.5"/><circle cx="278.6" cy="802.7" r="5.5"/><circle cx="286" cy="803.8" r="5.5"/><circle cx="295.3" cy="804.9" r="5.5"/><circle cx="300.1" cy="737.9" r="5.5"/><circle cx="298.8" cy="807.3" r="5.5"/><circle cx="303.6" cy="736.9" r="5.5"/><circle cx="307" cy="738.1" r="5.5"/><circle cx="307.5" cy="806.5" r="5.5"/><circle cx="314.3" cy="807.6" r="5.5"/><circle cx="317.7" cy="737.6" r="5.5"/><circle cx="323" cy="736.8" r="5.5"/><circle cx="322.7" cy="807.2" r="5.5"/><circle cx="330.6" cy="735.7" r="5.5"/><circle cx="329.5" cy="808.2" r="5.5"/><circle cx="339.9" cy="736.3" r="5.5"/><circle cx="340.5" cy="809" r="5.5"/><circle cx="343.1" cy="736.5" r="5.5"/><circle cx="350.1" cy="808" r="5.5"/><circle cx="352.5" cy="740.1" r="5.5"/><circle cx="353.6" cy="809.9" r="5.5"/><circle cx="359.9" cy="740.3" r="5.5"/><circle cx="363.9" cy="806.4" r="5.5"/><circle cx="369.2" cy="740.8" r="5.5"/><circle cx="369.2" cy="811.2" r="5.5"/><circle cx="375.1" cy="735.6" r="5.5"/><circle cx="383" cy="738.3" r="5.5"/><circle cx="390.5" cy="739.8" r="5.5"/><circle cx="391.2" cy="811.9" r="5.5"/><circle cx="401.4" cy="737.7" r="5.5"/><circle cx="402.7" cy="807.7" r="5.5"/><circle cx="404.1" cy="739" r="5.5"/><circle cx="404.3" cy="808.5" r="5.5"/><circle cx="410.2" cy="738.5" r="5.5"/><circle cx="410.3" cy="810.9" r="5.5"/><circle cx="415" cy="739.9" r="5.5"/><circle cx="413.3" cy="806.7" r="5.5"/><circle cx="417.4" cy="742.8" r="5.5"/><circle cx="422.4" cy="740.3" r="5.5"/><circle cx="421.4" cy="807" r="5.5"/><circle cx="428.7" cy="804.8" r="5.5"/><circle cx="437.6" cy="739" r="5.5"/><circle cx="438.5" cy="808.3" r="5.5"/><circle cx="442.8" cy="742" r="5.5"/><circle cx="443.3" cy="807.2" r="5.5"/><circle cx="447.1" cy="743.6" r="5.5"/><circle cx="446.5" cy="807.1" r="5.5"/><circle cx="451.2" cy="741.6" r="5.5"/><circle cx="458.7" cy="741.7" r="5.5"/><circle cx="462.9" cy="806" r="5.5"/><circle cx="469.1" cy="804.5" r="5.5"/><circle cx="475.4" cy="739.8" r="5.5"/><circle cx="482.4" cy="741.2" r="5.5"/><circle cx="481.6" cy="804.4" r="5.5"/><circle cx="489.7" cy="740.1" r="5.5"/><circle cx="488" cy="803.2" r="5.5"/><circle cx="492.9" cy="739.7" r="5.5"/><circle cx="493.6" cy="802.9" r="5.5"/><circle cx="498.9" cy="804.4" r="5.5"/><circle cx="501.9" cy="741" r="5.5"/><circle cx="503.6" cy="802.7" r="5.5"/><circle cx="507.5" cy="737.5" r="5.5"/><circle cx="511.4" cy="739" r="5.5"/><circle cx="512.5" cy="803.1" r="5.5"/><circle cx="522.8" cy="740.6" r="5.5"/><circle cx="521.7" cy="797.4" r="5.5"/><circle cx="527" cy="800.4" r="5.5"/><circle cx="533.1" cy="739" r="5.5"/><circle cx="534.2" cy="798.7" r="5.5"/><circle cx="539.2" cy="735.6" r="5.5"/><circle cx="539.4" cy="801.2" r="5.5"/><circle cx="546.4" cy="801" r="5.5"/><circle cx="550.5" cy="736.8" r="5.5"/><circle cx="550.3" cy="797.5" r="5.5"/><circle cx="557.9" cy="739.8" r="5.5"/><circle cx="557.9" cy="801.7" r="5.5"/><circle cx="561.3" cy="798.2" r="5.5"/><circle cx="569.2" cy="737.3" r="5.5"/><circle cx="569.8" cy="798.3" r="5.5"/><circle cx="576.3" cy="738.8" r="5.5"/><circle cx="576.1" cy="799.5" r="5.5"/><circle cx="579.2" cy="737.5" r="5.5"/><circle cx="583.2" cy="799.5" r="5.5"/><circle cx="588" cy="798.7" r="5.5"/><circle cx="596.5" cy="739.7" r="5.5"/><circle cx="596.3" cy="802.3" r="5.5"/><circle cx="605.6" cy="739.4" r="5.5"/><circle cx="605.7" cy="800" r="5.5"/><circle cx="609.3" cy="736.8" r="5.5"/><circle cx="609.4" cy="802.1" r="5.5"/><circle cx="614.2" cy="739.8" r="5.5"/><circle cx="620.9" cy="736.6" r="5.5"/><circle cx="621.3" cy="801.8" r="5.5"/><circle cx="624.8" cy="737" r="5.5"/><circle cx="624.1" cy="804.7" r="5.5"/><circle cx="629.2" cy="736.9" r="5.5"/><circle cx="628.9" cy="804.9" r="5.5"/><circle cx="634.7" cy="738.1" r="5.5"/><circle cx="634.7" cy="805" r="5.5"/><circle cx="641.2" cy="739.9" r="5.5"/><circle cx="648.7" cy="739.8" r="5.5"/><circle cx="656.3" cy="737.4" r="5.5"/><circle cx="662.6" cy="735.6" r="5.5"/><circle cx="662.1" cy="805.4" r="5.5"/><circle cx="674" cy="806.8" r="5.5"/><circle cx="678.2" cy="738.8" r="5.5"/><circle cx="679.2" cy="807.9" r="5.5"/><circle cx="690" cy="737.7" r="5.5"/><circle cx="696.1" cy="734.6" r="5.5"/><circle cx="696.5" cy="805.7" r="5.5"/><circle cx="699.9" cy="733.7" r="5.5"/><circle cx="700.6" cy="803.6" r="5.5"/><circle cx="704.4" cy="737.6" r="5.5"/><circle cx="709.6" cy="732.5" r="5.5"/><circle cx="709" cy="807.8" r="5.5"/><circle cx="714.2" cy="807" r="5.5"/><circle cx="723.6" cy="734.4" r="5.5"/><circle cx="723.6" cy="804.2" r="5.5"/><circle cx="727.8" cy="733.1" r="5.5"/><circle cx="726.7" cy="804.5" r="5.5"/><circle cx="731.4" cy="730.8" r="5.5"/><circle cx="732.2" cy="805.8" r="5.5"/><circle cx="740.9" cy="732.8" r="5.5"/><circle cx="740" cy="804.7" r="5.5"/><circle cx="745.9" cy="802.1" r="5.5"/><circle cx="751.5" cy="805" r="5.5"/><circle cx="755.9" cy="727.4" r="5.5"/><circle cx="757.5" cy="803.9" r="5.5"/><circle cx="773.6" cy="729.2" r="5.5"/><circle cx="772.6" cy="801.6" r="5.5"/><circle cx="778.4" cy="805.2" r="5.5"/><circle cx="788.5" cy="728.4" r="5.5"/><circle cx="797" cy="729.9" r="5.5"/><circle cx="797.7" cy="805.4" r="5.5"/><circle cx="802.6" cy="725.7" r="5.5"/><circle cx="803" cy="803.6" r="5.5"/><circle cx="808" cy="806.9" r="5.5"/><circle cx="814.2" cy="725.1" r="5.5"/><circle cx="819.4" cy="802.2" r="5.5"/><circle cx="824.9" cy="725.1" r="5.5"/><circle cx="824.6" cy="803.8" r="5.5"/><circle cx="830" cy="727.9" r="5.5"/><circle cx="834.9" cy="804.8" r="5.5"/><circle cx="842.8" cy="806" r="5.5"/><circle cx="848.6" cy="727.3" r="5.5"/><circle cx="847.5" cy="802.8" r="5.5"/><circle cx="854.7" cy="727.7" r="5.5"/><circle cx="854.6" cy="803.6" r="5.5"/><circle cx="861.2" cy="804.4" r="5.5"/><circle cx="868.1" cy="727.3" r="5.5"/><circle cx="877.4" cy="799.3" r="5.5"/><circle cx="884.5" cy="799.2" r="5.5"/><circle cx="891.4" cy="802.9" r="5.5"/><circle cx="895" cy="718.8" r="5.5"/><circle cx="895.5" cy="798.3" r="5.5"/><circle cx="901.7" cy="719.4" r="5.5"/><circle cx="908" cy="717.6" r="5.5"/><circle cx="911.9" cy="712.9" r="5.5"/><circle cx="919.3" cy="800.1" r="5.5"/><circle cx="934.1" cy="714" r="5.5"/><circle cx="933" cy="803.9" r="5.5"/><circle cx="939.4" cy="714.8" r="5.5"/><circle cx="941.1" cy="802.9" r="5.5"/><circle cx="946.8" cy="711.7" r="5.5"/><circle cx="946.2" cy="803.4" r="5.5"/><circle cx="949.3" cy="711" r="5.5"/><circle cx="950.9" cy="803.4" r="5.5"/><circle cx="957.9" cy="806.2" r="5.5"/><circle cx="962.3" cy="711.1" r="5.5"/><circle cx="962.4" cy="801.4" r="5.5"/><circle cx="966.1" cy="712.1" r="5.5"/><circle cx="965.8" cy="801.7" r="5.5"/><circle cx="969.8" cy="708.2" r="5.5"/><circle cx="984.2" cy="707.6" r="5.5"/><circle cx="995.7" cy="800.1" r="5.5"/><circle cx="1002.6" cy="706.5" r="5.5"/><circle cx="1001.4" cy="798.1" r="5.5"/><circle cx="1007.8" cy="703.3" r="5.5"/><circle cx="1016" cy="798.7" r="5.5"/><circle cx="1021.9" cy="703.5" r="5.5"/><circle cx="1021.8" cy="797.7" r="5.5"/><circle cx="1027.8" cy="703.9" r="5.5"/><circle cx="1028.1" cy="795.9" r="5.5"/><circle cx="1033.3" cy="708.8" r="5.5"/><circle cx="1033.6" cy="798.7" r="5.5"/><circle cx="1044.7" cy="716.2" r="5.5"/><circle cx="1043.2" cy="797.4" r="5.5"/><circle cx="1050.5" cy="717.6" r="5.5"/><circle cx="1054.6" cy="797.6" r="5.5"/><circle cx="1059.8" cy="723.4" r="5.5"/><circle cx="1062.4" cy="726.8" r="5.5"/><circle cx="1078.2" cy="732.6" r="5.5"/><circle cx="1078.6" cy="800.3" r="5.5"/><circle cx="1082.8" cy="735.6" r="5.5"/><circle cx="1088.7" cy="738.9" r="5.5"/><circle cx="1094.6" cy="739.1" r="5.5"/><circle cx="1095" cy="800" r="5.5"/><circle cx="1100.2" cy="739.1" r="5.5"/><circle cx="1110.3" cy="739.8" r="5.5"/><circle cx="1109" cy="800.2" r="5.5"/><circle cx="1113.2" cy="740.3" r="5.5"/><circle cx="1113.8" cy="802.2" r="5.5"/><circle cx="1119.4" cy="740" r="5.5"/><circle cx="1125.1" cy="802.8" r="5.5"/><circle cx="1131.3" cy="800.4" r="5.5"/><circle cx="1142.6" cy="802.8" r="5.5"/><circle cx="1147.4" cy="806.7" r="5.5"/><circle cx="1154.3" cy="738.7" r="5.5"/><circle cx="1154.6" cy="807.5" r="5.5"/><circle cx="1157.9" cy="805.2" r="5.5"/><circle cx="1174.1" cy="740.8" r="5.5"/><circle cx="1177.3" cy="736.2" r="5.5"/><circle cx="1177.6" cy="804.1" r="5.5"/><circle cx="1182.8" cy="806.1" r="5.5"/><circle cx="1186.5" cy="737.9" r="5.5"/><circle cx="1191.8" cy="806.6" r="5.5"/><circle cx="1199.7" cy="738" r="5.5"/><circle cx="1199.4" cy="805.4" r="5.5"/><circle cx="1213.5" cy="737.9" r="5.5"/><circle cx="1213.5" cy="806.7" r="5.5"/><circle cx="1218.1" cy="735" r="5.5"/><circle cx="1218.6" cy="803.2" r="5.5"/><circle cx="1222.8" cy="805.2" r="5.5"/><circle cx="1234.3" cy="736.3" r="5.5"/><circle cx="1234.2" cy="806.5" r="5.5"/><circle cx="1239.8" cy="732.7" r="5.5"/><circle cx="1238.7" cy="803.4" r="5.5"/><circle cx="1243" cy="735.6" r="5.5"/><circle cx="1248.1" cy="805.7" r="5.5"/><circle cx="1256" cy="730.9" r="5.5"/><circle cx="1258.6" cy="729.8" r="5.5"/><circle cx="1262.8" cy="729.2" r="5.5"/><circle cx="1262.1" cy="802.4" r="5.5"/><circle cx="1273.1" cy="724.9" r="5.5"/><circle cx="1271.7" cy="797.4" r="5.5"/><circle cx="1276.6" cy="724" r="5.5"/><circle cx="1275.4" cy="798.7" r="5.5"/><circle cx="1293.9" cy="728.5" r="5.5"/><circle cx="1298.2" cy="727.5" r="5.5"/><circle cx="1302.5" cy="730.8" r="5.5"/><circle cx="1307.9" cy="806.1" r="5.5"/><circle cx="1316" cy="734.9" r="5.5"/><circle cx="1316.2" cy="804.2" r="5.5"/><circle cx="1319" cy="731.5" r="5.5"/><circle cx="1327.3" cy="736" r="5.5"/><circle cx="1344.7" cy="810.1" r="5.5"/><circle cx="1358.8" cy="810.2" r="5.5"/><circle cx="1362.7" cy="733.8" r="5.5"/><circle cx="1367" cy="736.8" r="5.5"/><circle cx="1372.3" cy="736.6" r="5.5"/><circle cx="1371.7" cy="809.5" r="5.5"/><circle cx="1378.8" cy="810.6" r="5.5"/><circle cx="1380.7" cy="732.9" r="5.5"/><circle cx="1382" cy="809.3" r="5.5"/><circle cx="1385.9" cy="811.3" r="5.5"/><circle cx="1401.3" cy="812.1" r="5.5"/><circle cx="1412.3" cy="733.9" r="5.5"/><circle cx="1416.4" cy="812.5" r="5.5"/><circle cx="1424.1" cy="813.8" r="5.5"/><circle cx="1428.2" cy="734.2" r="5.5"/><circle cx="1427.6" cy="810.6" r="5.5"/><circle cx="1432.3" cy="736.4" r="5.5"/><circle cx="1440.9" cy="815.4" r="5.5"/><circle cx="1451.4" cy="733" r="5.5"/><circle cx="1458.1" cy="731.7" r="5.5"/><circle cx="1478.5" cy="818.8" r="5.5"/><circle cx="1485.4" cy="822.3" r="5.5"/><circle cx="1491.2" cy="735.4" r="5.5"/><circle cx="1490.5" cy="820.7" r="5.5"/><circle cx="1495.4" cy="822.3" r="5.5"/><circle cx="1511.5" cy="735.5" r="5.5"/><circle cx="1513.3" cy="737.6" r="5.5"/><circle cx="1514.3" cy="819.2" r="5.5"/><circle cx="1519.4" cy="735.3" r="5.5"/><circle cx="1524.4" cy="739.3" r="5.5"/><circle cx="1535.9" cy="817.5" r="5.5"/><circle cx="1540" cy="738.2" r="5.5"/><circle cx="1539.9" cy="819.5" r="5.5"/><circle cx="1550.6" cy="814.1" r="5.5"/><circle cx="1557.1" cy="739.6" r="5.5"/><circle cx="1556.2" cy="817.8" r="5.5"/><circle cx="1560.5" cy="736" r="5.5"/><circle cx="1559.7" cy="816.4" r="5.5"/><circle cx="1564.3" cy="811.9" r="5.5"/><circle cx="1571.5" cy="734.6" r="5.5"/><circle cx="1570.7" cy="813.9" r="5.5"/><circle cx="1574.3" cy="814.1" r="5.5"/><circle cx="1587.8" cy="738.2" r="5.5"/><circle cx="1587.1" cy="814.8" r="5.5"/><circle cx="1591.6" cy="737.5" r="5.5"/><circle cx="1592" cy="813.9" r="5.5"/><circle cx="1598.8" cy="813.7" r="5.5"/><circle cx="1610" cy="731.9" r="5.5"/><circle cx="1611.1" cy="809.2" r="5.5"/><circle cx="1615" cy="732.3" r="5.5"/><circle cx="1615.3" cy="811.5" r="5.5"/><circle cx="1637.7" cy="730.1" r="5.5"/><circle cx="1641.3" cy="725.8" r="5.5"/><circle cx="1641.3" cy="808.6" r="5.5"/><circle cx="1652.2" cy="811.2" r="5.5"/><circle cx="1662.6" cy="727.3" r="5.5"/><circle cx="1661.2" cy="806.4" r="5.5"/><circle cx="1681.1" cy="726.6" r="5.5"/><circle cx="1681.9" cy="809.1" r="5.5"/><circle cx="1688" cy="727.1" r="5.5"/><circle cx="1688.2" cy="811.7" r="5.5"/><circle cx="1692.3" cy="812.6" r="5.5"/><circle cx="1695.3" cy="816.8" r="5.5"/><circle cx="1701.7" cy="727.8" r="5.5"/><circle cx="1701.7" cy="816.3" r="5.5"/><circle cx="1708.8" cy="726.3" r="5.5"/><circle cx="1713.7" cy="725.7" r="5.5"/><circle cx="1731.1" cy="825.4" r="5.5"/><circle cx="1733.2" cy="728.4" r="5.5"/><circle cx="1734.2" cy="821" r="5.5"/><circle cx="1737.3" cy="821.6" r="5.5"/><circle cx="1748.1" cy="820.3" r="5.5"/><circle cx="1755.9" cy="823.4" r="5.5"/><circle cx="1759.8" cy="730.6" r="5.5"/><circle cx="1766.6" cy="822.9" r="5.5"/><circle cx="1771.9" cy="732.5" r="5.5"/><circle cx="1771.6" cy="827.4" r="5.5"/><circle cx="1775.3" cy="827.1" r="5.5"/><circle cx="1779.1" cy="739.7" r="5.5"/><circle cx="1778.3" cy="824.9" r="5.5"/><circle cx="1786" cy="826.8" r="5.5"/><circle cx="1791.3" cy="742.1" r="5.5"/><circle cx="1795.6" cy="741.8" r="5.5"/><circle cx="1796.9" cy="828.3" r="5.5"/></g>
<path d="M1111.5,664V735" stroke="#0072bd" stroke-width="11" stroke-linecap="round"/>
<path d="M1082,690V735" stroke="#0072bd" stroke-width="11" stroke-linecap="round"/>
<path d="M941,696V735" stroke="#0072bd" stroke-width="11" stroke-linecap="round"/>
<g fill="#0072bd"><circle cx="351" cy="707.7" r="5.5"/><circle cx="847.5" cy="722" r="5.5"/><circle cx="941.3" cy="695.6" r="5.5"/><circle cx="1015.7" cy="688.5" r="5.5"/><circle cx="1077.6" cy="692" r="5.5"/><circle cx="358.2" cy="551.2" r="5.5"/><circle cx="1738" cy="840" r="5.5"/><circle cx="1597" cy="826" r="5.5"/><circle cx="1440" cy="832" r="5.5"/><circle cx="1458" cy="830" r="5.5"/><circle cx="1300" cy="820" r="5.5"/></g>
<path d="M241.3,759C241.3,741.3 252.9,727 267.3,727L279,727C293.4,727 305,741.3 305,759L305,786C305,803.7 293.4,818 279,818L267.3,818C252.9,818 241.3,803.7 241.3,786Z" fill="#00ff00"/>
<path d="M250,730C250,717.8 259.8,708 272,708L275,708C287.2,708 297,717.8 297,730L297,778C297,790.2 287.2,800 275,800L272,800C259.8,800 250,790.2 250,778Z" fill="#00ff00"/>
<path d="M299,725C299,714 308,705 319,705L320,705C331,705 340,714 340,725L340,800C340,811 331,820 320,820L319,820C308,820 299,811 299,800Z" fill="#00ff00"/>
<path d="M280,774C280,766.3 286.3,760 294,760L306,760C313.7,760 320,766.3 320,774L320,804C320,811.7 313.7,818 306,818L294,818C286.3,818 280,811.7 280,804Z" fill="#00ff00"/>
<path d="M334,732C334,723.2 341.2,716 350,716L352,716C360.8,716 368,723.2 368,732L368,804C368,812.8 360.8,820 352,820L350,820C341.2,820 334,812.8 334,804Z" fill="#00ff00"/>
<path d="M330,767C330,749.3 340.7,735 353.9,735L353.9,735C367,735 377.7,749.3 377.7,767L377.7,786C377.7,803.7 367,818 353.9,818L353.9,818C340.7,818 330,803.7 330,786Z" fill="#00ff00"/>
<path d="M386.5,743C386.5,725.3 398,711 412.2,711L412.2,711C426.4,711 437.9,725.3 437.9,743L437.9,787C437.9,804.7 426.4,819 412.2,819L412.2,819C398,819 386.5,804.7 386.5,787Z" fill="#00ff00"/>
<path d="M468,752C468,734.3 479.5,720 493.6,720L493.6,720C507.8,720 519.3,734.3 519.3,752L519.3,782C519.3,799.7 507.8,814 493.6,814L493.6,814C479.5,814 468,799.7 468,782Z" fill="#00ff00"/>
<path d="M545.2,748.5C545.2,730.8 556.5,716.5 570.4,716.5L570.4,716.5C584.2,716.5 595.5,730.8 595.5,748.5L595.5,780C595.5,797.7 584.2,812 570.4,812L570.4,812C556.5,812 545.2,797.7 545.2,780Z" fill="#00ff00"/>
<path d="M625.6,750C625.6,732.3 637.2,718 651.6,718L654.4,718C668.8,718 680.4,732.3 680.4,750L680.4,782C680.4,799.7 668.8,814 654.4,814L651.6,814C637.2,814 625.6,799.7 625.6,782Z" fill="#ffff00"/>
<path d="M683,715C683,697.3 691.5,683 702,683L702,683C712.5,683 721,697.3 721,715L721,782C721,799.7 712.5,814 702,814L702,814C691.5,814 683,799.7 683,782Z" fill="#00ff00"/>
<path d="M700,736C700,718.3 710.7,704 724,704L724,704C737.3,704 748,718.3 748,736L748,782C748,799.7 737.3,814 724,814L724,814C710.7,814 700,799.7 700,782Z" fill="#00ff00"/>
<path d="M700,756C700,738.3 711.6,724 726,724L750,724C764.4,724 776,738.3 776,756L776,782C776,799.7 764.4,814 750,814L726,814C711.6,814 700,799.7 700,782Z" fill="#00ff00"/>
<path d="M794.4,749C794.4,731.3 804.7,717 817.4,717L817.4,717C830.1,717 840.4,731.3 840.4,749L840.4,782C840.4,799.7 830.1,814 817.4,814L817.4,814C804.7,814 794.4,799.7 794.4,782Z" fill="#ffff00"/>
<path d="M865.2,747C865.2,729.3 876.3,709.4 890,702.5L890,702.5C903.7,695.6 914.8,704.3 914.8,722L914.8,773C914.8,790.7 903.7,805 890,805L890,805C876.3,805 865.2,790.7 865.2,773Z" fill="#00ff00"/>
<path d="M948.4,728C948.4,710.3 960,694.7 974.4,693.1L975.5,692.9C989.9,691.3 1001.5,704.3 1001.5,722L1001.5,784C1001.5,801.7 989.9,816 975.5,816L974.4,816C960,816 948.4,801.7 948.4,784Z" fill="#ffff00"/>
<path d="M1034,646C1034,636.1 1042.1,628 1052,628L1057,628C1066.9,628 1075,636.1 1075,646L1075,772C1075,781.9 1066.9,790 1057,790L1052,790C1042.1,790 1034,781.9 1034,772Z" fill="#ffff00"/>
<path d="M1031.6,732C1031.6,714.3 1043.1,700 1057.3,700L1057.3,700C1071.5,700 1083,714.3 1083,732L1083,768C1083,785.7 1071.5,800 1057.3,800L1057.3,800C1043.1,800 1031.6,785.7 1031.6,768Z" fill="#ffff00"/>
<path d="M1111.3,728C1111.3,710.3 1122.9,696 1137.3,696L1138.4,696C1152.8,696 1164.4,710.3 1164.4,728L1164.4,777C1164.4,794.7 1152.8,809 1138.4,809L1137.3,809C1122.9,809 1111.3,794.7 1111.3,777Z" fill="#ffff00"/>
<path d="M1194.5,669C1194.5,660.2 1201.6,653 1210.5,653L1210.5,653C1219.3,653 1226.4,660.2 1226.4,669L1226.4,724C1226.4,732.8 1219.3,740 1210.5,740L1210.5,740C1201.6,740 1194.5,732.8 1194.5,724Z" fill="#ffff00"/>
<path d="M1191,745C1191,727.3 1202.6,713 1217,713L1221.6,713C1236,713 1247.6,727.3 1247.6,745L1247.6,784C1247.6,801.7 1236,816 1221.6,816L1217,816C1202.6,816 1191,801.7 1191,784Z" fill="#ffff00"/>
<path d="M1274,742C1274,724.3 1285.5,710 1299.7,710L1299.7,710C1313.8,710 1325.3,724.3 1325.3,742L1325.3,783C1325.3,800.7 1313.8,815 1299.7,815L1299.7,815C1285.5,815 1274,800.7 1274,783Z" fill="#ff0000"/>
<path d="M1354.7,757C1354.7,739.3 1366.2,725 1380.3,725L1380.3,725C1394.5,725 1406,739.3 1406,757L1406,786.5C1406,804.2 1394.5,818.5 1380.3,818.5L1380.3,818.5C1366.2,818.5 1354.7,804.2 1354.7,786.5Z" fill="#ffff00"/>
<path d="M1435.5,746C1435.5,728.3 1447,714 1461.2,714L1461.2,714C1475.5,714 1487,728.3 1487,746L1487,783C1487,800.7 1475.5,815 1461.2,815L1461.2,815C1447,815 1435.5,800.7 1435.5,783Z" fill="#ff0000"/>
<path d="M1494,782C1494,764.3 1505.6,747.1 1520,743.6L1549,736.4C1563.4,732.9 1575,744.3 1575,762L1575,805C1575,822.7 1563.4,837 1549,837L1520,837C1505.6,837 1494,822.7 1494,805Z" fill="#00ff00"/>
<path d="M1521,762C1521,744.3 1532.6,730 1547,730L1549,730C1563.4,730 1575,744.3 1575,762L1575,768C1575,785.7 1563.4,800 1549,800L1547,800C1532.6,800 1521,785.7 1521,768Z" fill="#00ff00"/>
<path d="M1595.2,738.5C1595.2,720.8 1605.9,706.5 1619.1,706.5L1619.1,706.5C1632.3,706.5 1643,720.8 1643,738.5L1643,801C1643,818.7 1632.3,833 1619.1,833L1619.1,833C1605.9,833 1595.2,818.7 1595.2,801Z" fill="#ffff00"/>
<path d="M1670.5,738.5C1670.5,720.8 1682.1,706.5 1696.5,706.5L1697.7,706.5C1712.1,706.5 1723.7,720.8 1723.7,738.5L1723.7,796C1723.7,813.7 1712.1,828 1697.7,828L1696.5,828C1682.1,828 1670.5,813.7 1670.5,796Z" fill="#00ff00"/>
<path d="M1751.3,769.7C1751.3,752 1762.8,737.7 1777,737.7L1777,737.7C1791.2,737.7 1802.7,752 1802.7,769.7L1802.7,814C1802.7,831.7 1791.2,846 1777,846L1777,846C1762.8,846 1751.3,831.7 1751.3,814Z" fill="#ffff00"/>
<g fill="none" stroke="#00ff00" stroke-width="3"><circle cx="358.2" cy="551.2" r="14.5"/><circle cx="272" cy="722" r="14.5"/><circle cx="264" cy="725" r="14.5"/><circle cx="351" cy="708" r="14.5"/><circle cx="270" cy="803" r="14.5"/><circle cx="300" cy="804" r="14.5"/><circle cx="410" cy="726" r="14.5"/><circle cx="487" cy="811" r="14.5"/><circle cx="292" cy="803" r="14.5"/><circle cx="566" cy="728" r="14.5"/><circle cx="1697" cy="829" r="14.5"/><circle cx="1529" cy="820" r="14.5"/><circle cx="1500" cy="820" r="14.5"/><circle cx="1560" cy="740" r="14.5"/><circle cx="700" cy="805" r="14.5"/></g>
<g fill="none" stroke="#ffff00" stroke-width="3"><circle cx="975" cy="684" r="14.5"/><circle cx="968" cy="815" r="14.5"/><circle cx="973" cy="812" r="14.5"/><circle cx="1210" cy="655" r="14.5"/><circle cx="1612" cy="718" r="14.5"/><circle cx="1620" cy="818" r="14.5"/><circle cx="1775" cy="830" r="14.5"/></g>
<g fill="none" stroke="#ff0000" stroke-width="3"><circle cx="1296" cy="708" r="14.5"/><circle cx="1300" cy="800" r="14.5"/></g>
<g font-size="42" fill="#262626"><text x="188.5" y="789.8" text-anchor="end">0.04</text><text x="188.5" y="706.8" text-anchor="end">0.045</text><text x="188.5" y="623.8" text-anchor="end">0.05</text><text x="200.0" y="891.0" text-anchor="middle">0</text><text x="557.8" y="891.0" text-anchor="middle">0.5</text><text x="915.6" y="891.0" text-anchor="middle">1</text><text x="1273.5" y="891.0" text-anchor="middle">1.5</text><text x="1631.3" y="891.0" text-anchor="middle">2</text><text x="1696.0" y="963.0" font-size="50">×</text><text x="1728.2" y="958.0">10</text><text x="1774.5" y="937.5" font-size="35">4</text><text transform="translate(67.5,694.6) rotate(-90)" text-anchor="middle" font-size="46" textLength="417.4" lengthAdjust="spacingAndGlyphs">accelerometer2RMS</text></g>
<g stroke="#dedede" stroke-width="3.2"><line x1="557.8" y1="1013.5" x2="557.8" y2="1299.5" /><line x1="915.6" y1="1013.5" x2="915.6" y2="1299.5" /><line x1="1273.5" y1="1013.5" x2="1273.5" y2="1299.5" /><line x1="1631.3" y1="1013.5" x2="1631.3" y2="1299.5" /><line x1="200" y1="1204.3" x2="1795.5" y2="1204.3" /><line x1="200" y1="1109.3" x2="1795.5" y2="1109.3" /><line x1="200" y1="1013.7" x2="1795.5" y2="1013.7" /></g>
<g stroke="#262626"><path d="M200,1013.5V1299.5H1795.5" fill="none" stroke-width="3.8" stroke-linejoin="miter" stroke-linecap="butt"/><path d="M200,1299.5h15M200,1204.3h15M200,1109.3h15M200,1013.7h15M200.0,1299.5v-16M557.8,1299.5v-16M915.6,1299.5v-16M1273.5,1299.5v-16M1631.3,1299.5v-16" fill="none" stroke-width="3.4"/></g>
<path d="M195,1299.5H1800" stroke="#0072bd" stroke-width="11" stroke-linecap="round"/>
<g fill="#0072bd"><circle cx="252.7" cy="1076.1" r="5.5"/><circle cx="250" cy="1079.8" r="5.5"/><circle cx="307.9" cy="1073.5" r="5.5"/><circle cx="341.4" cy="1091" r="5.5"/><circle cx="461.9" cy="1104.8" r="5.5"/><circle cx="473" cy="1102.7" r="5.5"/><circle cx="560.2" cy="1078.8" r="5.5"/><circle cx="640.3" cy="1069.2" r="5.5"/><circle cx="735.9" cy="1079.8" r="5.5"/><circle cx="807.6" cy="1078.2" r="5.5"/><circle cx="823.6" cy="1076.1" r="5.5"/><circle cx="901.6" cy="1075.6" r="5.5"/><circle cx="950.5" cy="1083.5" r="5.5"/><circle cx="957.4" cy="1081.4" r="5.5"/><circle cx="969.6" cy="1091.5" r="5.5"/><circle cx="1527.6" cy="1078.7" r="5.5"/><circle cx="1561.5" cy="1066.9" r="5.5"/><circle cx="1538.4" cy="1100.2" r="5.5"/><circle cx="1639" cy="1077.6" r="5.5"/></g>
<path d="M256.9,1283.1H283.6A16.400000000000002,16.400000000000002 0 0 1 283.6,1315.9H256.9A16.400000000000002,16.400000000000002 0 0 1 256.9,1283.1Z" fill="#00ff00"/>
<path d="M308.4,1283.1H359.5A16.400000000000002,16.400000000000002 0 0 1 359.5,1315.9H308.4A16.400000000000002,16.400000000000002 0 0 1 308.4,1283.1Z" fill="#00ff00"/>
<g fill="none" stroke="#00ff00" stroke-width="3.2"><circle cx="402.9" cy="1299.5" r="14.8"/><circle cx="405.1" cy="1299.5" r="14.8"/><circle cx="407.3" cy="1299.5" r="14.8"/><circle cx="409.5" cy="1299.5" r="14.8"/><circle cx="411.8" cy="1299.5" r="14.8"/><circle cx="414" cy="1299.5" r="14.8"/><circle cx="416.2" cy="1299.5" r="14.8"/><circle cx="418.4" cy="1299.5" r="14.8"/><circle cx="420.6" cy="1299.5" r="14.8"/></g>
<g fill="none" stroke="#00ff00" stroke-width="3.2"><circle cx="483.6" cy="1299.5" r="14.8"/><circle cx="485.8" cy="1299.5" r="14.8"/><circle cx="488" cy="1299.5" r="14.8"/><circle cx="490.2" cy="1299.5" r="14.8"/><circle cx="492.4" cy="1299.5" r="14.8"/><circle cx="494.7" cy="1299.5" r="14.8"/><circle cx="496.9" cy="1299.5" r="14.8"/><circle cx="499.1" cy="1299.5" r="14.8"/><circle cx="501.3" cy="1299.5" r="14.8"/></g>
<g fill="none" stroke="#00ff00" stroke-width="3.2"><circle cx="561.2" cy="1299.5" r="14.8"/><circle cx="563.3" cy="1299.5" r="14.8"/><circle cx="565.5" cy="1299.5" r="14.8"/><circle cx="567.6" cy="1299.5" r="14.8"/><circle cx="569.8" cy="1299.5" r="14.8"/><circle cx="571.9" cy="1299.5" r="14.8"/><circle cx="574" cy="1299.5" r="14.8"/><circle cx="576.2" cy="1299.5" r="14.8"/><circle cx="578.3" cy="1299.5" r="14.8"/></g>
<g fill="none" stroke="#ffff00" stroke-width="3.2"><circle cx="642.9" cy="1299.5" r="14.8"/><circle cx="645" cy="1299.5" r="14.8"/><circle cx="647.2" cy="1299.5" r="14.8"/><circle cx="649.3" cy="1299.5" r="14.8"/><circle cx="651.5" cy="1299.5" r="14.8"/><circle cx="653.6" cy="1299.5" r="14.8"/><circle cx="655.8" cy="1299.5" r="14.8"/><circle cx="657.9" cy="1299.5" r="14.8"/><circle cx="660.1" cy="1299.5" r="14.8"/><circle cx="662.2" cy="1299.5" r="14.8"/></g>
<path d="M697.6,1283.1H758.8A16.400000000000002,16.400000000000002 0 0 1 758.8,1315.9H697.6A16.400000000000002,16.400000000000002 0 0 1 697.6,1283.1Z" fill="#00ff00"/>
<g fill="none" stroke="#ffff00" stroke-width="3.2"><circle cx="810.7" cy="1299.5" r="14.8"/><circle cx="813.1" cy="1299.5" r="14.8"/><circle cx="815.5" cy="1299.5" r="14.8"/><circle cx="817.8" cy="1299.5" r="14.8"/><circle cx="820.2" cy="1299.5" r="14.8"/><circle cx="822.6" cy="1299.5" r="14.8"/></g>
<g fill="none" stroke="#00ff00" stroke-width="3.2"><circle cx="880.9" cy="1299.5" r="14.8"/><circle cx="883.1" cy="1299.5" r="14.8"/><circle cx="885.3" cy="1299.5" r="14.8"/><circle cx="887.5" cy="1299.5" r="14.8"/><circle cx="889.7" cy="1299.5" r="14.8"/><circle cx="891.9" cy="1299.5" r="14.8"/><circle cx="894.1" cy="1299.5" r="14.8"/><circle cx="896.3" cy="1299.5" r="14.8"/><circle cx="898.5" cy="1299.5" r="14.8"/></g>
<g fill="none" stroke="#ffff00" stroke-width="3.2"><circle cx="963.2" cy="1299.5" r="14.8"/><circle cx="965.6" cy="1299.5" r="14.8"/><circle cx="967.9" cy="1299.5" r="14.8"/><circle cx="970.3" cy="1299.5" r="14.8"/><circle cx="972.6" cy="1299.5" r="14.8"/><circle cx="975" cy="1299.5" r="14.8"/><circle cx="977.3" cy="1299.5" r="14.8"/><circle cx="979.7" cy="1299.5" r="14.8"/><circle cx="982" cy="1299.5" r="14.8"/><circle cx="984.4" cy="1299.5" r="14.8"/></g>
<g fill="none" stroke="#ffff00" stroke-width="3.2"><circle cx="1048.3" cy="1299.5" r="14.8"/><circle cx="1050.5" cy="1299.5" r="14.8"/><circle cx="1052.8" cy="1299.5" r="14.8"/><circle cx="1055" cy="1299.5" r="14.8"/><circle cx="1057.2" cy="1299.5" r="14.8"/><circle cx="1059.4" cy="1299.5" r="14.8"/><circle cx="1061.7" cy="1299.5" r="14.8"/><circle cx="1063.9" cy="1299.5" r="14.8"/><circle cx="1066.1" cy="1299.5" r="14.8"/></g>
<g fill="none" stroke="#ffff00" stroke-width="3.2"><circle cx="1129" cy="1299.5" r="14.8"/><circle cx="1131.2" cy="1299.5" r="14.8"/><circle cx="1133.4" cy="1299.5" r="14.8"/><circle cx="1135.6" cy="1299.5" r="14.8"/><circle cx="1137.8" cy="1299.5" r="14.8"/><circle cx="1140.1" cy="1299.5" r="14.8"/><circle cx="1142.3" cy="1299.5" r="14.8"/><circle cx="1144.5" cy="1299.5" r="14.8"/><circle cx="1146.7" cy="1299.5" r="14.8"/></g>
<g fill="none" stroke="#ffff00" stroke-width="3.2"><circle cx="1206.4" cy="1299.5" r="14.8"/><circle cx="1208.7" cy="1299.5" r="14.8"/><circle cx="1211" cy="1299.5" r="14.8"/><circle cx="1213.3" cy="1299.5" r="14.8"/><circle cx="1215.6" cy="1299.5" r="14.8"/><circle cx="1217.9" cy="1299.5" r="14.8"/><circle cx="1220.1" cy="1299.5" r="14.8"/><circle cx="1222.4" cy="1299.5" r="14.8"/><circle cx="1224.7" cy="1299.5" r="14.8"/><circle cx="1227" cy="1299.5" r="14.8"/><circle cx="1229.3" cy="1299.5" r="14.8"/><circle cx="1231.6" cy="1299.5" r="14.8"/></g>
<g fill="none" stroke="#ff0000" stroke-width="3.2"><circle cx="1290.3" cy="1299.5" r="14.8"/><circle cx="1292.4" cy="1299.5" r="14.8"/><circle cx="1294.6" cy="1299.5" r="14.8"/><circle cx="1296.7" cy="1299.5" r="14.8"/><circle cx="1298.9" cy="1299.5" r="14.8"/><circle cx="1301" cy="1299.5" r="14.8"/><circle cx="1303.2" cy="1299.5" r="14.8"/><circle cx="1305.3" cy="1299.5" r="14.8"/><circle cx="1307.5" cy="1299.5" r="14.8"/><circle cx="1309.6" cy="1299.5" r="14.8"/></g>
<g fill="none" stroke="#ffff00" stroke-width="3.2"><circle cx="1370.9" cy="1299.5" r="14.8"/><circle cx="1373.1" cy="1299.5" r="14.8"/><circle cx="1375.3" cy="1299.5" r="14.8"/><circle cx="1377.5" cy="1299.5" r="14.8"/><circle cx="1379.8" cy="1299.5" r="14.8"/><circle cx="1382" cy="1299.5" r="14.8"/><circle cx="1384.2" cy="1299.5" r="14.8"/><circle cx="1386.4" cy="1299.5" r="14.8"/><circle cx="1388.6" cy="1299.5" r="14.8"/></g>
<g fill="none" stroke="#ff0000" stroke-width="3.2"><circle cx="1452.6" cy="1299.5" r="14.8"/><circle cx="1454.9" cy="1299.5" r="14.8"/><circle cx="1457.2" cy="1299.5" r="14.8"/><circle cx="1459.5" cy="1299.5" r="14.8"/><circle cx="1461.8" cy="1299.5" r="14.8"/><circle cx="1464" cy="1299.5" r="14.8"/><circle cx="1466.3" cy="1299.5" r="14.8"/><circle cx="1468.6" cy="1299.5" r="14.8"/><circle cx="1470.9" cy="1299.5" r="14.8"/></g>
<g fill="none" stroke="#00ff00" stroke-width="3.2"><circle cx="1542.4" cy="1299.5" r="14.8"/><circle cx="1544.7" cy="1299.5" r="14.8"/><circle cx="1547" cy="1299.5" r="14.8"/><circle cx="1549.3" cy="1299.5" r="14.8"/><circle cx="1551.7" cy="1299.5" r="14.8"/><circle cx="1554" cy="1299.5" r="14.8"/><circle cx="1556.3" cy="1299.5" r="14.8"/><circle cx="1558.6" cy="1299.5" r="14.8"/></g>
<g fill="none" stroke="#ffff00" stroke-width="3.2"><circle cx="1611.2" cy="1299.5" r="14.8"/><circle cx="1613.4" cy="1299.5" r="14.8"/><circle cx="1615.7" cy="1299.5" r="14.8"/><circle cx="1617.9" cy="1299.5" r="14.8"/><circle cx="1620.1" cy="1299.5" r="14.8"/><circle cx="1622.3" cy="1299.5" r="14.8"/><circle cx="1624.6" cy="1299.5" r="14.8"/><circle cx="1626.8" cy="1299.5" r="14.8"/></g>
<g fill="none" stroke="#00ff00" stroke-width="3.2"><circle cx="1686.4" cy="1299.5" r="14.8"/><circle cx="1688.6" cy="1299.5" r="14.8"/><circle cx="1690.7" cy="1299.5" r="14.8"/><circle cx="1692.9" cy="1299.5" r="14.8"/><circle cx="1695.1" cy="1299.5" r="14.8"/><circle cx="1697.2" cy="1299.5" r="14.8"/><circle cx="1699.4" cy="1299.5" r="14.8"/><circle cx="1701.6" cy="1299.5" r="14.8"/><circle cx="1703.7" cy="1299.5" r="14.8"/><circle cx="1705.9" cy="1299.5" r="14.8"/></g>
<g fill="none" stroke="#ffff00" stroke-width="3.2"><circle cx="1767.2" cy="1299.5" r="14.8"/><circle cx="1769.3" cy="1299.5" r="14.8"/><circle cx="1771.5" cy="1299.5" r="14.8"/><circle cx="1773.6" cy="1299.5" r="14.8"/><circle cx="1775.8" cy="1299.5" r="14.8"/><circle cx="1777.9" cy="1299.5" r="14.8"/><circle cx="1780.1" cy="1299.5" r="14.8"/><circle cx="1782.2" cy="1299.5" r="14.8"/><circle cx="1784.4" cy="1299.5" r="14.8"/><circle cx="1786.5" cy="1299.5" r="14.8"/></g>
<g fill="none" stroke="#00ff00" stroke-width="3.2"><circle cx="1511" cy="1299.5" r="14.8"/></g>
<g font-size="42" fill="#262626"><text x="188.5" y="1315.5" text-anchor="end">0</text><text x="188.5" y="1220.3" text-anchor="end">100</text><text x="188.5" y="1125.3" text-anchor="end">200</text><text x="188.5" y="1029.7" text-anchor="end">300</text><text x="200.0" y="1353.0" text-anchor="middle">0</text><text x="557.8" y="1353.0" text-anchor="middle">0.5</text><text x="915.6" y="1353.0" text-anchor="middle">1</text><text x="1273.5" y="1353.0" text-anchor="middle">1.5</text><text x="1631.3" y="1353.0" text-anchor="middle">2</text><text x="1696.0" y="1425.0" font-size="50">×</text><text x="1728.2" y="1420.0">10</text><text x="1774.5" y="1399.5" font-size="35">4</text><text transform="translate(100.8,1157.5) rotate(-90)" text-anchor="middle" font-size="46" textLength="143.1" lengthAdjust="spacingAndGlyphs">current</text></g>
<g stroke="#dedede" stroke-width="3.2"><line x1="500.1" y1="1497.3" x2="500.1" y2="1789.8" /><line x1="865.6" y1="1497.3" x2="865.6" y2="1789.8" /><line x1="1231.2" y1="1497.3" x2="1231.2" y2="1789.8" /><line x1="1596.8" y1="1497.3" x2="1596.8" y2="1789.8" /><line x1="134.5" y1="1766.7" x2="1765" y2="1766.7" /><line x1="134.5" y1="1676.8" x2="1765" y2="1676.8" /><line x1="134.5" y1="1587.2" x2="1765" y2="1587.2" /><line x1="134.5" y1="1497.3" x2="1765" y2="1497.3" /></g>
<g stroke="#262626"><path d="M134.5,1497.3V1789.8H1765" fill="none" stroke-width="3.8" stroke-linejoin="miter" stroke-linecap="butt"/><path d="M134.5,1766.7h15M134.5,1676.8h15M134.5,1587.2h15M134.5,1497.3h15M134.5,1789.8v-16M500.1,1789.8v-16M865.6,1789.8v-16M1231.2,1789.8v-16M1596.8,1789.8v-16" fill="none" stroke-width="3.4"/></g>
<g stroke="#0072bd" stroke-linecap="round"><path d="M133,1613.3H1768M133,1730.7H1768" stroke-width="10"/><path d="M130,1642.4H1768M130,1671.9H1768M130,1701.2H1768" stroke-width="11"/></g>
<g fill="#0072bd"><circle cx="239" cy="1583.4" r="5.5"/><circle cx="542.1" cy="1583.4" r="5.5"/><circle cx="632.1" cy="1554.4" r="5.5"/><circle cx="219.9" cy="1760.8" r="5.5"/><circle cx="482" cy="1760.8" r="5.5"/><circle cx="380.7" cy="1790.6" r="5.5"/><circle cx="783.2" cy="1583.4" r="5.5"/><circle cx="795.9" cy="1583.4" r="5.5"/><circle cx="911.7" cy="1524.3" r="5.5"/><circle cx="955.3" cy="1583.4" r="5.5"/><circle cx="997.4" cy="1583.4" r="5.5"/><circle cx="747.8" cy="1760.8" r="5.5"/><circle cx="754.2" cy="1760.8" r="5.5"/><circle cx="873.8" cy="1760.8" r="5.5"/><circle cx="1122.4" cy="1760.8" r="5.5"/><circle cx="1173" cy="1760.8" r="5.5"/><circle cx="1357.1" cy="1583.3" r="5.5"/><circle cx="1544" cy="1583.3" r="5.5"/><circle cx="1575" cy="1583.3" r="5.5"/><circle cx="1634.9" cy="1583.3" r="5.5"/><circle cx="1690.6" cy="1583.3" r="5.5"/><circle cx="1208.2" cy="1759.7" r="5.5"/><circle cx="1253.9" cy="1759.7" r="5.5"/><circle cx="1372.6" cy="1759.7" r="5.5"/><circle cx="1501.4" cy="1759.7" r="5.5"/><circle cx="1550.6" cy="1759.7" r="5.5"/><circle cx="1599.7" cy="1759.7" r="5.5"/><circle cx="1733.5" cy="1759.7" r="5.5"/><circle cx="1393.1" cy="1789.5" r="5.5"/><circle cx="274.4" cy="1583.4" r="5.5"/><circle cx="603.8" cy="1760.8" r="5.5"/><circle cx="645.5" cy="1760.8" r="5.5"/></g>
<g fill="none" stroke="#00ff00" stroke-width="3"><circle cx="274.4" cy="1583.4" r="14.5"/><circle cx="645.5" cy="1760.8" r="14.5"/></g>
<g fill="none" stroke="#ffff00" stroke-width="3"><circle cx="603.8" cy="1760.8" r="14.5"/><circle cx="1173" cy="1760.8" r="14.5"/></g>
<g fill="none" stroke="#ff0000" stroke-width="3"><circle cx="1253.9" cy="1759.7" r="14.5"/></g>
<path d="M191.4,1626H299.8A16.400000000000002,16.400000000000002 0 0 1 299.8,1658.8H191.4A16.400000000000002,16.400000000000002 0 0 1 191.4,1626Z" fill="#00ff00"/>
<path d="M191.4,1655.5H299.8A16.400000000000002,16.400000000000002 0 0 1 299.8,1688.3H191.4A16.400000000000002,16.400000000000002 0 0 1 191.4,1655.5Z" fill="#00ff00"/>
<path d="M191.4,1684.8H299.8A16.400000000000002,16.400000000000002 0 0 1 299.8,1717.6H191.4A16.400000000000002,16.400000000000002 0 0 1 191.4,1684.8Z" fill="#00ff00"/>
<path d="M191.4,1596.9H299.8A16.400000000000002,16.400000000000002 0 0 1 299.8,1629.7H191.4A16.400000000000002,16.400000000000002 0 0 1 191.4,1596.9Z" fill="#00ff00"/>
<g fill="none" stroke="#00ff00" stroke-width="3.2"><circle cx="200" cy="1730.7" r="14.8"/><circle cx="206" cy="1730.7" r="14.8"/><circle cx="214" cy="1730.7" r="14.8"/><circle cx="250" cy="1730.7" r="14.8"/><circle cx="258" cy="1730.7" r="14.8"/><circle cx="266" cy="1730.7" r="14.8"/><circle cx="274" cy="1730.7" r="14.8"/><circle cx="284" cy="1730.7" r="14.8"/><circle cx="290" cy="1730.7" r="14.8"/></g>
<g fill="none" stroke="#00ff00" stroke-width="3.2"><circle cx="341.4" cy="1642.4" r="14.8"/><circle cx="343.7" cy="1642.4" r="14.8"/><circle cx="345.9" cy="1642.4" r="14.8"/><circle cx="348.2" cy="1642.4" r="14.8"/><circle cx="350.5" cy="1642.4" r="14.8"/><circle cx="352.7" cy="1642.4" r="14.8"/><circle cx="355" cy="1642.4" r="14.8"/><circle cx="357.3" cy="1642.4" r="14.8"/><circle cx="359.5" cy="1642.4" r="14.8"/><circle cx="361.8" cy="1642.4" r="14.8"/></g>
<g fill="none" stroke="#00ff00" stroke-width="3.2"><circle cx="341.4" cy="1671.9" r="14.8"/><circle cx="343.7" cy="1671.9" r="14.8"/><circle cx="345.9" cy="1671.9" r="14.8"/><circle cx="348.2" cy="1671.9" r="14.8"/><circle cx="350.5" cy="1671.9" r="14.8"/><circle cx="352.7" cy="1671.9" r="14.8"/><circle cx="355" cy="1671.9" r="14.8"/><circle cx="357.3" cy="1671.9" r="14.8"/><circle cx="359.5" cy="1671.9" r="14.8"/><circle cx="361.8" cy="1671.9" r="14.8"/></g>
<g fill="none" stroke="#00ff00" stroke-width="3.2"><circle cx="341.4" cy="1701.2" r="14.8"/><circle cx="343.7" cy="1701.2" r="14.8"/><circle cx="345.9" cy="1701.2" r="14.8"/><circle cx="348.2" cy="1701.2" r="14.8"/><circle cx="350.5" cy="1701.2" r="14.8"/><circle cx="352.7" cy="1701.2" r="14.8"/><circle cx="355" cy="1701.2" r="14.8"/><circle cx="357.3" cy="1701.2" r="14.8"/><circle cx="359.5" cy="1701.2" r="14.8"/><circle cx="361.8" cy="1701.2" r="14.8"/></g>
<g fill="none" stroke="#00ff00" stroke-width="3.2"><circle cx="341.4" cy="1613.3" r="14.8"/><circle cx="343.7" cy="1613.3" r="14.8"/><circle cx="345.9" cy="1613.3" r="14.8"/><circle cx="348.2" cy="1613.3" r="14.8"/><circle cx="350.5" cy="1613.3" r="14.8"/><circle cx="352.7" cy="1613.3" r="14.8"/><circle cx="355" cy="1613.3" r="14.8"/><circle cx="357.3" cy="1613.3" r="14.8"/><circle cx="359.5" cy="1613.3" r="14.8"/><circle cx="361.8" cy="1613.3" r="14.8"/></g>
<g fill="none" stroke="#00ff00" stroke-width="3.2"><circle cx="355" cy="1730.7" r="14.8"/><circle cx="360" cy="1730.7" r="14.8"/></g>
<g fill="none" stroke="#00ff00" stroke-width="3.2"><circle cx="423.6" cy="1642.4" r="14.8"/><circle cx="426" cy="1642.4" r="14.8"/><circle cx="428.4" cy="1642.4" r="14.8"/><circle cx="430.7" cy="1642.4" r="14.8"/><circle cx="433.1" cy="1642.4" r="14.8"/><circle cx="435.5" cy="1642.4" r="14.8"/><circle cx="437.9" cy="1642.4" r="14.8"/><circle cx="440.2" cy="1642.4" r="14.8"/><circle cx="442.6" cy="1642.4" r="14.8"/><circle cx="445" cy="1642.4" r="14.8"/></g>
<g fill="none" stroke="#00ff00" stroke-width="3.2"><circle cx="423.6" cy="1671.9" r="14.8"/><circle cx="426" cy="1671.9" r="14.8"/><circle cx="428.4" cy="1671.9" r="14.8"/><circle cx="430.7" cy="1671.9" r="14.8"/><circle cx="433.1" cy="1671.9" r="14.8"/><circle cx="435.5" cy="1671.9" r="14.8"/><circle cx="437.9" cy="1671.9" r="14.8"/><circle cx="440.2" cy="1671.9" r="14.8"/><circle cx="442.6" cy="1671.9" r="14.8"/><circle cx="445" cy="1671.9" r="14.8"/></g>
<g fill="none" stroke="#00ff00" stroke-width="3.2"><circle cx="423.6" cy="1701.2" r="14.8"/><circle cx="426" cy="1701.2" r="14.8"/><circle cx="428.4" cy="1701.2" r="14.8"/><circle cx="430.7" cy="1701.2" r="14.8"/><circle cx="433.1" cy="1701.2" r="14.8"/><circle cx="435.5" cy="1701.2" r="14.8"/><circle cx="437.9" cy="1701.2" r="14.8"/><circle cx="440.2" cy="1701.2" r="14.8"/><circle cx="442.6" cy="1701.2" r="14.8"/><circle cx="445" cy="1701.2" r="14.8"/></g>
<g fill="none" stroke="#00ff00" stroke-width="3.2"><circle cx="427" cy="1613.3" r="14.8"/><circle cx="433" cy="1613.3" r="14.8"/><circle cx="439" cy="1613.3" r="14.8"/></g>
<g fill="none" stroke="#00ff00" stroke-width="3.2"><circle cx="431" cy="1730.7" r="14.8"/><circle cx="437" cy="1730.7" r="14.8"/><circle cx="444" cy="1730.7" r="14.8"/></g>
<g fill="none" stroke="#00ff00" stroke-width="3.2"><circle cx="503.3" cy="1642.4" r="14.8"/><circle cx="505.7" cy="1642.4" r="14.8"/><circle cx="508" cy="1642.4" r="14.8"/><circle cx="510.4" cy="1642.4" r="14.8"/><circle cx="512.8" cy="1642.4" r="14.8"/><circle cx="515.1" cy="1642.4" r="14.8"/><circle cx="517.5" cy="1642.4" r="14.8"/><circle cx="519.8" cy="1642.4" r="14.8"/><circle cx="522.2" cy="1642.4" r="14.8"/></g>
<g fill="none" stroke="#00ff00" stroke-width="3.2"><circle cx="503.3" cy="1671.9" r="14.8"/><circle cx="505.7" cy="1671.9" r="14.8"/><circle cx="508" cy="1671.9" r="14.8"/><circle cx="510.4" cy="1671.9" r="14.8"/><circle cx="512.8" cy="1671.9" r="14.8"/><circle cx="515.1" cy="1671.9" r="14.8"/><circle cx="517.5" cy="1671.9" r="14.8"/><circle cx="519.8" cy="1671.9" r="14.8"/><circle cx="522.2" cy="1671.9" r="14.8"/></g>
<g fill="none" stroke="#00ff00" stroke-width="3.2"><circle cx="503.3" cy="1701.2" r="14.8"/><circle cx="505.7" cy="1701.2" r="14.8"/><circle cx="508" cy="1701.2" r="14.8"/><circle cx="510.4" cy="1701.2" r="14.8"/><circle cx="512.8" cy="1701.2" r="14.8"/><circle cx="515.1" cy="1701.2" r="14.8"/><circle cx="517.5" cy="1701.2" r="14.8"/><circle cx="519.8" cy="1701.2" r="14.8"/><circle cx="522.2" cy="1701.2" r="14.8"/></g>
<g fill="none" stroke="#00ff00" stroke-width="3.2"><circle cx="506" cy="1613.3" r="14.8"/><circle cx="512" cy="1613.3" r="14.8"/></g>
<g fill="none" stroke="#00ff00" stroke-width="3.2"><circle cx="518" cy="1730.7" r="14.8"/></g>
<g fill="none" stroke="#ffff00" stroke-width="3.2"><circle cx="585.8" cy="1642.4" r="14.8"/><circle cx="588" cy="1642.4" r="14.8"/><circle cx="590.2" cy="1642.4" r="14.8"/><circle cx="592.4" cy="1642.4" r="14.8"/><circle cx="594.6" cy="1642.4" r="14.8"/><circle cx="596.8" cy="1642.4" r="14.8"/><circle cx="599.1" cy="1642.4" r="14.8"/><circle cx="601.3" cy="1642.4" r="14.8"/><circle cx="603.5" cy="1642.4" r="14.8"/><circle cx="605.7" cy="1642.4" r="14.8"/><circle cx="607.9" cy="1642.4" r="14.8"/></g>
<g fill="none" stroke="#ffff00" stroke-width="3.2"><circle cx="585.8" cy="1671.9" r="14.8"/><circle cx="588" cy="1671.9" r="14.8"/><circle cx="590.2" cy="1671.9" r="14.8"/><circle cx="592.4" cy="1671.9" r="14.8"/><circle cx="594.6" cy="1671.9" r="14.8"/><circle cx="596.8" cy="1671.9" r="14.8"/><circle cx="599.1" cy="1671.9" r="14.8"/><circle cx="601.3" cy="1671.9" r="14.8"/><circle cx="603.5" cy="1671.9" r="14.8"/><circle cx="605.7" cy="1671.9" r="14.8"/><circle cx="607.9" cy="1671.9" r="14.8"/></g>
<g fill="none" stroke="#ffff00" stroke-width="3.2"><circle cx="585.8" cy="1701.2" r="14.8"/><circle cx="588" cy="1701.2" r="14.8"/><circle cx="590.2" cy="1701.2" r="14.8"/><circle cx="592.4" cy="1701.2" r="14.8"/><circle cx="594.6" cy="1701.2" r="14.8"/><circle cx="596.8" cy="1701.2" r="14.8"/><circle cx="599.1" cy="1701.2" r="14.8"/><circle cx="601.3" cy="1701.2" r="14.8"/><circle cx="603.5" cy="1701.2" r="14.8"/><circle cx="605.7" cy="1701.2" r="14.8"/><circle cx="607.9" cy="1701.2" r="14.8"/></g>
<g fill="none" stroke="#ffff00" stroke-width="3.2"><circle cx="585.8" cy="1613.3" r="14.8"/><circle cx="588" cy="1613.3" r="14.8"/><circle cx="590.2" cy="1613.3" r="14.8"/><circle cx="592.4" cy="1613.3" r="14.8"/><circle cx="594.6" cy="1613.3" r="14.8"/><circle cx="596.8" cy="1613.3" r="14.8"/><circle cx="599.1" cy="1613.3" r="14.8"/><circle cx="601.3" cy="1613.3" r="14.8"/><circle cx="603.5" cy="1613.3" r="14.8"/><circle cx="605.7" cy="1613.3" r="14.8"/><circle cx="607.9" cy="1613.3" r="14.8"/></g>
<g fill="none" stroke="#ffff00" stroke-width="3.2"><circle cx="597" cy="1730.7" r="14.8"/><circle cx="602" cy="1730.7" r="14.8"/></g>
<path d="M642.4,1626H705.9A16.400000000000002,16.400000000000002 0 0 1 705.9,1658.8H642.4A16.400000000000002,16.400000000000002 0 0 1 642.4,1626Z" fill="#00ff00"/>
<path d="M642.4,1655.5H705.9A16.400000000000002,16.400000000000002 0 0 1 705.9,1688.3H642.4A16.400000000000002,16.400000000000002 0 0 1 642.4,1655.5Z" fill="#00ff00"/>
<path d="M642.4,1684.8H705.9A16.400000000000002,16.400000000000002 0 0 1 705.9,1717.6H642.4A16.400000000000002,16.400000000000002 0 0 1 642.4,1684.8Z" fill="#00ff00"/>
<path d="M642.4,1596.9H705.9A16.400000000000002,16.400000000000002 0 0 1 705.9,1629.7H642.4A16.400000000000002,16.400000000000002 0 0 1 642.4,1596.9Z" fill="#00ff00"/>
<path d="M642.4,1714.3H705.9A16.400000000000002,16.400000000000002 0 0 1 705.9,1747.1H642.4A16.400000000000002,16.400000000000002 0 0 1 642.4,1714.3Z" fill="#00ff00"/>
<g fill="none" stroke="#ffff00" stroke-width="3.2"><circle cx="759.2" cy="1642.4" r="14.8"/><circle cx="761.4" cy="1642.4" r="14.8"/><circle cx="763.6" cy="1642.4" r="14.8"/><circle cx="765.8" cy="1642.4" r="14.8"/><circle cx="768.1" cy="1642.4" r="14.8"/><circle cx="770.3" cy="1642.4" r="14.8"/><circle cx="772.5" cy="1642.4" r="14.8"/></g>
<g fill="none" stroke="#ffff00" stroke-width="3.2"><circle cx="759.2" cy="1671.9" r="14.8"/><circle cx="761.4" cy="1671.9" r="14.8"/><circle cx="763.6" cy="1671.9" r="14.8"/><circle cx="765.8" cy="1671.9" r="14.8"/><circle cx="768.1" cy="1671.9" r="14.8"/><circle cx="770.3" cy="1671.9" r="14.8"/><circle cx="772.5" cy="1671.9" r="14.8"/></g>
<g fill="none" stroke="#ffff00" stroke-width="3.2"><circle cx="759.2" cy="1701.2" r="14.8"/><circle cx="761.4" cy="1701.2" r="14.8"/><circle cx="763.6" cy="1701.2" r="14.8"/><circle cx="765.8" cy="1701.2" r="14.8"/><circle cx="768.1" cy="1701.2" r="14.8"/><circle cx="770.3" cy="1701.2" r="14.8"/><circle cx="772.5" cy="1701.2" r="14.8"/></g>
<g fill="none" stroke="#ffff00" stroke-width="3.2"><circle cx="759.2" cy="1613.3" r="14.8"/><circle cx="761.4" cy="1613.3" r="14.8"/><circle cx="763.6" cy="1613.3" r="14.8"/><circle cx="765.8" cy="1613.3" r="14.8"/><circle cx="768.1" cy="1613.3" r="14.8"/><circle cx="770.3" cy="1613.3" r="14.8"/><circle cx="772.5" cy="1613.3" r="14.8"/></g>
<g fill="none" stroke="#ffff00" stroke-width="3.2"><circle cx="760" cy="1730.7" r="14.8"/><circle cx="765" cy="1730.7" r="14.8"/><circle cx="771" cy="1730.7" r="14.8"/></g>
<g fill="none" stroke="#00ff00" stroke-width="3.2"><circle cx="830" cy="1642.4" r="14.8"/><circle cx="832.1" cy="1642.4" r="14.8"/><circle cx="834.3" cy="1642.4" r="14.8"/><circle cx="836.4" cy="1642.4" r="14.8"/><circle cx="838.6" cy="1642.4" r="14.8"/><circle cx="840.7" cy="1642.4" r="14.8"/><circle cx="842.9" cy="1642.4" r="14.8"/><circle cx="845" cy="1642.4" r="14.8"/><circle cx="847.2" cy="1642.4" r="14.8"/><circle cx="849.3" cy="1642.4" r="14.8"/></g>
<g fill="none" stroke="#00ff00" stroke-width="3.2"><circle cx="830" cy="1671.9" r="14.8"/><circle cx="832.1" cy="1671.9" r="14.8"/><circle cx="834.3" cy="1671.9" r="14.8"/><circle cx="836.4" cy="1671.9" r="14.8"/><circle cx="838.6" cy="1671.9" r="14.8"/><circle cx="840.7" cy="1671.9" r="14.8"/><circle cx="842.9" cy="1671.9" r="14.8"/><circle cx="845" cy="1671.9" r="14.8"/><circle cx="847.2" cy="1671.9" r="14.8"/><circle cx="849.3" cy="1671.9" r="14.8"/></g>
<g fill="none" stroke="#00ff00" stroke-width="3.2"><circle cx="830" cy="1701.2" r="14.8"/><circle cx="832.1" cy="1701.2" r="14.8"/><circle cx="834.3" cy="1701.2" r="14.8"/><circle cx="836.4" cy="1701.2" r="14.8"/><circle cx="838.6" cy="1701.2" r="14.8"/><circle cx="840.7" cy="1701.2" r="14.8"/><circle cx="842.9" cy="1701.2" r="14.8"/><circle cx="845" cy="1701.2" r="14.8"/><circle cx="847.2" cy="1701.2" r="14.8"/><circle cx="849.3" cy="1701.2" r="14.8"/></g>
<g fill="none" stroke="#00ff00" stroke-width="3.2"><circle cx="830" cy="1613.3" r="14.8"/><circle cx="832.1" cy="1613.3" r="14.8"/><circle cx="834.3" cy="1613.3" r="14.8"/><circle cx="836.4" cy="1613.3" r="14.8"/><circle cx="838.6" cy="1613.3" r="14.8"/><circle cx="840.7" cy="1613.3" r="14.8"/><circle cx="842.9" cy="1613.3" r="14.8"/><circle cx="845" cy="1613.3" r="14.8"/><circle cx="847.2" cy="1613.3" r="14.8"/><circle cx="849.3" cy="1613.3" r="14.8"/></g>
<g fill="none" stroke="#00ff00" stroke-width="3.2"><circle cx="830" cy="1730.7" r="14.8"/><circle cx="832.1" cy="1730.7" r="14.8"/><circle cx="834.3" cy="1730.7" r="14.8"/><circle cx="836.4" cy="1730.7" r="14.8"/><circle cx="838.6" cy="1730.7" r="14.8"/><circle cx="840.7" cy="1730.7" r="14.8"/><circle cx="842.9" cy="1730.7" r="14.8"/><circle cx="845" cy="1730.7" r="14.8"/><circle cx="847.2" cy="1730.7" r="14.8"/><circle cx="849.3" cy="1730.7" r="14.8"/></g>
<g fill="none" stroke="#ffff00" stroke-width="3.2"><circle cx="915" cy="1642.4" r="14.8"/><circle cx="917.3" cy="1642.4" r="14.8"/><circle cx="919.6" cy="1642.4" r="14.8"/><circle cx="921.8" cy="1642.4" r="14.8"/><circle cx="924.1" cy="1642.4" r="14.8"/><circle cx="926.4" cy="1642.4" r="14.8"/><circle cx="928.7" cy="1642.4" r="14.8"/><circle cx="931" cy="1642.4" r="14.8"/><circle cx="933.2" cy="1642.4" r="14.8"/><circle cx="935.5" cy="1642.4" r="14.8"/><circle cx="937.8" cy="1642.4" r="14.8"/></g>
<g fill="none" stroke="#ffff00" stroke-width="3.2"><circle cx="915" cy="1671.9" r="14.8"/><circle cx="917.3" cy="1671.9" r="14.8"/><circle cx="919.6" cy="1671.9" r="14.8"/><circle cx="921.8" cy="1671.9" r="14.8"/><circle cx="924.1" cy="1671.9" r="14.8"/><circle cx="926.4" cy="1671.9" r="14.8"/><circle cx="928.7" cy="1671.9" r="14.8"/><circle cx="931" cy="1671.9" r="14.8"/><circle cx="933.2" cy="1671.9" r="14.8"/><circle cx="935.5" cy="1671.9" r="14.8"/><circle cx="937.8" cy="1671.9" r="14.8"/></g>
<g fill="none" stroke="#ffff00" stroke-width="3.2"><circle cx="915" cy="1701.2" r="14.8"/><circle cx="917.3" cy="1701.2" r="14.8"/><circle cx="919.6" cy="1701.2" r="14.8"/><circle cx="921.8" cy="1701.2" r="14.8"/><circle cx="924.1" cy="1701.2" r="14.8"/><circle cx="926.4" cy="1701.2" r="14.8"/><circle cx="928.7" cy="1701.2" r="14.8"/><circle cx="931" cy="1701.2" r="14.8"/><circle cx="933.2" cy="1701.2" r="14.8"/><circle cx="935.5" cy="1701.2" r="14.8"/><circle cx="937.8" cy="1701.2" r="14.8"/></g>
<g fill="none" stroke="#ffff00" stroke-width="3.2"><circle cx="917" cy="1613.3" r="14.8"/><circle cx="928" cy="1613.3" r="14.8"/><circle cx="936" cy="1613.3" r="14.8"/></g>
<g fill="none" stroke="#ffff00" stroke-width="3.2"><circle cx="916" cy="1730.7" r="14.8"/><circle cx="924" cy="1730.7" r="14.8"/><circle cx="932" cy="1730.7" r="14.8"/><circle cx="939" cy="1730.7" r="14.8"/></g>
<g fill="none" stroke="#ffff00" stroke-width="3.2"><circle cx="1000.7" cy="1642.4" r="14.8"/><circle cx="1003" cy="1642.4" r="14.8"/><circle cx="1005.2" cy="1642.4" r="14.8"/><circle cx="1007.5" cy="1642.4" r="14.8"/><circle cx="1009.7" cy="1642.4" r="14.8"/><circle cx="1012" cy="1642.4" r="14.8"/><circle cx="1014.2" cy="1642.4" r="14.8"/><circle cx="1016.5" cy="1642.4" r="14.8"/><circle cx="1018.7" cy="1642.4" r="14.8"/><circle cx="1021" cy="1642.4" r="14.8"/></g>
<g fill="none" stroke="#ffff00" stroke-width="3.2"><circle cx="1000.7" cy="1671.9" r="14.8"/><circle cx="1003" cy="1671.9" r="14.8"/><circle cx="1005.2" cy="1671.9" r="14.8"/><circle cx="1007.5" cy="1671.9" r="14.8"/><circle cx="1009.7" cy="1671.9" r="14.8"/><circle cx="1012" cy="1671.9" r="14.8"/><circle cx="1014.2" cy="1671.9" r="14.8"/><circle cx="1016.5" cy="1671.9" r="14.8"/><circle cx="1018.7" cy="1671.9" r="14.8"/><circle cx="1021" cy="1671.9" r="14.8"/></g>
<g fill="none" stroke="#ffff00" stroke-width="3.2"><circle cx="1000.7" cy="1701.2" r="14.8"/><circle cx="1003" cy="1701.2" r="14.8"/><circle cx="1005.2" cy="1701.2" r="14.8"/><circle cx="1007.5" cy="1701.2" r="14.8"/><circle cx="1009.7" cy="1701.2" r="14.8"/><circle cx="1012" cy="1701.2" r="14.8"/><circle cx="1014.2" cy="1701.2" r="14.8"/><circle cx="1016.5" cy="1701.2" r="14.8"/><circle cx="1018.7" cy="1701.2" r="14.8"/><circle cx="1021" cy="1701.2" r="14.8"/></g>
<g fill="none" stroke="#ffff00" stroke-width="3.2"><circle cx="1003" cy="1613.3" r="14.8"/><circle cx="1016" cy="1613.3" r="14.8"/></g>
<g fill="none" stroke="#ffff00" stroke-width="3.2"><circle cx="1000" cy="1730.7" r="14.8"/><circle cx="1008" cy="1730.7" r="14.8"/><circle cx="1015" cy="1730.7" r="14.8"/><circle cx="1022" cy="1730.7" r="14.8"/></g>
<g fill="none" stroke="#ffff00" stroke-width="3.2"><circle cx="1082.9" cy="1642.4" r="14.8"/><circle cx="1085.2" cy="1642.4" r="14.8"/><circle cx="1087.4" cy="1642.4" r="14.8"/><circle cx="1089.7" cy="1642.4" r="14.8"/><circle cx="1091.9" cy="1642.4" r="14.8"/><circle cx="1094.2" cy="1642.4" r="14.8"/><circle cx="1096.4" cy="1642.4" r="14.8"/><circle cx="1098.7" cy="1642.4" r="14.8"/><circle cx="1100.9" cy="1642.4" r="14.8"/><circle cx="1103.2" cy="1642.4" r="14.8"/></g>
<g fill="none" stroke="#ffff00" stroke-width="3.2"><circle cx="1082.9" cy="1671.9" r="14.8"/><circle cx="1085.2" cy="1671.9" r="14.8"/><circle cx="1087.4" cy="1671.9" r="14.8"/><circle cx="1089.7" cy="1671.9" r="14.8"/><circle cx="1091.9" cy="1671.9" r="14.8"/><circle cx="1094.2" cy="1671.9" r="14.8"/><circle cx="1096.4" cy="1671.9" r="14.8"/><circle cx="1098.7" cy="1671.9" r="14.8"/><circle cx="1100.9" cy="1671.9" r="14.8"/><circle cx="1103.2" cy="1671.9" r="14.8"/></g>
<g fill="none" stroke="#ffff00" stroke-width="3.2"><circle cx="1082.9" cy="1701.2" r="14.8"/><circle cx="1085.2" cy="1701.2" r="14.8"/><circle cx="1087.4" cy="1701.2" r="14.8"/><circle cx="1089.7" cy="1701.2" r="14.8"/><circle cx="1091.9" cy="1701.2" r="14.8"/><circle cx="1094.2" cy="1701.2" r="14.8"/><circle cx="1096.4" cy="1701.2" r="14.8"/><circle cx="1098.7" cy="1701.2" r="14.8"/><circle cx="1100.9" cy="1701.2" r="14.8"/><circle cx="1103.2" cy="1701.2" r="14.8"/></g>
<g fill="none" stroke="#ffff00" stroke-width="3.2"><circle cx="1083" cy="1613.3" r="14.8"/><circle cx="1092" cy="1613.3" r="14.8"/><circle cx="1102" cy="1613.3" r="14.8"/></g>
<g fill="none" stroke="#ffff00" stroke-width="3.2"><circle cx="1084" cy="1730.7" r="14.8"/><circle cx="1092" cy="1730.7" r="14.8"/><circle cx="1102" cy="1730.7" r="14.8"/></g>
<path d="M1161.8,1626H1188.7A16.400000000000002,16.400000000000002 0 0 1 1188.7,1658.8H1161.8A16.400000000000002,16.400000000000002 0 0 1 1161.8,1626Z" fill="#ffff00"/>
<path d="M1161.8,1655.5H1188.7A16.400000000000002,16.400000000000002 0 0 1 1188.7,1688.3H1161.8A16.400000000000002,16.400000000000002 0 0 1 1161.8,1655.5Z" fill="#ffff00"/>
<path d="M1161.8,1684.8H1188.7A16.400000000000002,16.400000000000002 0 0 1 1188.7,1717.6H1161.8A16.400000000000002,16.400000000000002 0 0 1 1161.8,1684.8Z" fill="#ffff00"/>
<g fill="none" stroke="#ffff00" stroke-width="3.2"><circle cx="1163" cy="1613.3" r="14.8"/><circle cx="1170" cy="1613.3" r="14.8"/><circle cx="1178" cy="1613.3" r="14.8"/><circle cx="1187" cy="1613.3" r="14.8"/></g>
<g fill="none" stroke="#ffff00" stroke-width="3.2"><circle cx="1163" cy="1730.7" r="14.8"/><circle cx="1172" cy="1730.7" r="14.8"/><circle cx="1186" cy="1730.7" r="14.8"/></g>
<g fill="none" stroke="#ff0000" stroke-width="3.2"><circle cx="1247.8" cy="1642.4" r="14.8"/><circle cx="1250.1" cy="1642.4" r="14.8"/><circle cx="1252.4" cy="1642.4" r="14.8"/><circle cx="1254.7" cy="1642.4" r="14.8"/><circle cx="1257" cy="1642.4" r="14.8"/><circle cx="1259.2" cy="1642.4" r="14.8"/><circle cx="1261.5" cy="1642.4" r="14.8"/><circle cx="1263.8" cy="1642.4" r="14.8"/><circle cx="1266.1" cy="1642.4" r="14.8"/><circle cx="1268.4" cy="1642.4" r="14.8"/></g>
<g fill="none" stroke="#ff0000" stroke-width="3.2"><circle cx="1247.8" cy="1671.9" r="14.8"/><circle cx="1250.1" cy="1671.9" r="14.8"/><circle cx="1252.4" cy="1671.9" r="14.8"/><circle cx="1254.7" cy="1671.9" r="14.8"/><circle cx="1257" cy="1671.9" r="14.8"/><circle cx="1259.2" cy="1671.9" r="14.8"/><circle cx="1261.5" cy="1671.9" r="14.8"/><circle cx="1263.8" cy="1671.9" r="14.8"/><circle cx="1266.1" cy="1671.9" r="14.8"/><circle cx="1268.4" cy="1671.9" r="14.8"/></g>
<g fill="none" stroke="#ff0000" stroke-width="3.2"><circle cx="1247.8" cy="1701.2" r="14.8"/><circle cx="1250.1" cy="1701.2" r="14.8"/><circle cx="1252.4" cy="1701.2" r="14.8"/><circle cx="1254.7" cy="1701.2" r="14.8"/><circle cx="1257" cy="1701.2" r="14.8"/><circle cx="1259.2" cy="1701.2" r="14.8"/><circle cx="1261.5" cy="1701.2" r="14.8"/><circle cx="1263.8" cy="1701.2" r="14.8"/><circle cx="1266.1" cy="1701.2" r="14.8"/><circle cx="1268.4" cy="1701.2" r="14.8"/></g>
<g fill="none" stroke="#ff0000" stroke-width="3.2"><circle cx="1247.8" cy="1613.3" r="14.8"/><circle cx="1250.1" cy="1613.3" r="14.8"/><circle cx="1252.4" cy="1613.3" r="14.8"/><circle cx="1254.7" cy="1613.3" r="14.8"/><circle cx="1257" cy="1613.3" r="14.8"/><circle cx="1259.2" cy="1613.3" r="14.8"/><circle cx="1261.5" cy="1613.3" r="14.8"/><circle cx="1263.8" cy="1613.3" r="14.8"/><circle cx="1266.1" cy="1613.3" r="14.8"/><circle cx="1268.4" cy="1613.3" r="14.8"/></g>
<g fill="none" stroke="#ff0000" stroke-width="3.2"><circle cx="1250" cy="1730.7" r="14.8"/><circle cx="1256" cy="1730.7" r="14.8"/><circle cx="1262" cy="1730.7" r="14.8"/><circle cx="1266" cy="1730.7" r="14.8"/></g>
<g fill="none" stroke="#ffff00" stroke-width="3.2"><circle cx="1331" cy="1642.4" r="14.8"/><circle cx="1333.2" cy="1642.4" r="14.8"/><circle cx="1335.3" cy="1642.4" r="14.8"/><circle cx="1337.5" cy="1642.4" r="14.8"/><circle cx="1339.6" cy="1642.4" r="14.8"/><circle cx="1341.8" cy="1642.4" r="14.8"/><circle cx="1343.9" cy="1642.4" r="14.8"/><circle cx="1346.1" cy="1642.4" r="14.8"/><circle cx="1348.2" cy="1642.4" r="14.8"/><circle cx="1350.4" cy="1642.4" r="14.8"/></g>
<g fill="none" stroke="#ffff00" stroke-width="3.2"><circle cx="1331" cy="1671.9" r="14.8"/><circle cx="1333.2" cy="1671.9" r="14.8"/><circle cx="1335.3" cy="1671.9" r="14.8"/><circle cx="1337.5" cy="1671.9" r="14.8"/><circle cx="1339.6" cy="1671.9" r="14.8"/><circle cx="1341.8" cy="1671.9" r="14.8"/><circle cx="1343.9" cy="1671.9" r="14.8"/><circle cx="1346.1" cy="1671.9" r="14.8"/><circle cx="1348.2" cy="1671.9" r="14.8"/><circle cx="1350.4" cy="1671.9" r="14.8"/></g>
<g fill="none" stroke="#ffff00" stroke-width="3.2"><circle cx="1331" cy="1701.2" r="14.8"/><circle cx="1333.2" cy="1701.2" r="14.8"/><circle cx="1335.3" cy="1701.2" r="14.8"/><circle cx="1337.5" cy="1701.2" r="14.8"/><circle cx="1339.6" cy="1701.2" r="14.8"/><circle cx="1341.8" cy="1701.2" r="14.8"/><circle cx="1343.9" cy="1701.2" r="14.8"/><circle cx="1346.1" cy="1701.2" r="14.8"/><circle cx="1348.2" cy="1701.2" r="14.8"/><circle cx="1350.4" cy="1701.2" r="14.8"/></g>
<g fill="none" stroke="#ffff00" stroke-width="3.2"><circle cx="1331" cy="1613.3" r="14.8"/><circle cx="1338" cy="1613.3" r="14.8"/><circle cx="1347" cy="1613.3" r="14.8"/></g>
<g fill="none" stroke="#ffff00" stroke-width="3.2"><circle cx="1331" cy="1730.7" r="14.8"/><circle cx="1340" cy="1730.7" r="14.8"/><circle cx="1349" cy="1730.7" r="14.8"/></g>
<g fill="none" stroke="#ff0000" stroke-width="3.2"><circle cx="1414.2" cy="1642.4" r="14.8"/><circle cx="1416.4" cy="1642.4" r="14.8"/><circle cx="1418.5" cy="1642.4" r="14.8"/><circle cx="1420.7" cy="1642.4" r="14.8"/><circle cx="1422.8" cy="1642.4" r="14.8"/><circle cx="1425" cy="1642.4" r="14.8"/><circle cx="1427.1" cy="1642.4" r="14.8"/><circle cx="1429.3" cy="1642.4" r="14.8"/><circle cx="1431.4" cy="1642.4" r="14.8"/><circle cx="1433.6" cy="1642.4" r="14.8"/></g>
<g fill="none" stroke="#ff0000" stroke-width="3.2"><circle cx="1414.2" cy="1671.9" r="14.8"/><circle cx="1416.4" cy="1671.9" r="14.8"/><circle cx="1418.5" cy="1671.9" r="14.8"/><circle cx="1420.7" cy="1671.9" r="14.8"/><circle cx="1422.8" cy="1671.9" r="14.8"/><circle cx="1425" cy="1671.9" r="14.8"/><circle cx="1427.1" cy="1671.9" r="14.8"/><circle cx="1429.3" cy="1671.9" r="14.8"/><circle cx="1431.4" cy="1671.9" r="14.8"/><circle cx="1433.6" cy="1671.9" r="14.8"/></g>
<g fill="none" stroke="#ff0000" stroke-width="3.2"><circle cx="1414.2" cy="1701.2" r="14.8"/><circle cx="1416.4" cy="1701.2" r="14.8"/><circle cx="1418.5" cy="1701.2" r="14.8"/><circle cx="1420.7" cy="1701.2" r="14.8"/><circle cx="1422.8" cy="1701.2" r="14.8"/><circle cx="1425" cy="1701.2" r="14.8"/><circle cx="1427.1" cy="1701.2" r="14.8"/><circle cx="1429.3" cy="1701.2" r="14.8"/><circle cx="1431.4" cy="1701.2" r="14.8"/><circle cx="1433.6" cy="1701.2" r="14.8"/></g>
<g fill="none" stroke="#ff0000" stroke-width="3.2"><circle cx="1418" cy="1613.3" r="14.8"/><circle cx="1424" cy="1613.3" r="14.8"/><circle cx="1432" cy="1613.3" r="14.8"/></g>
<g fill="none" stroke="#ff0000" stroke-width="3.2"><circle cx="1414.2" cy="1730.7" r="14.8"/><circle cx="1416.4" cy="1730.7" r="14.8"/><circle cx="1418.5" cy="1730.7" r="14.8"/><circle cx="1420.7" cy="1730.7" r="14.8"/><circle cx="1422.8" cy="1730.7" r="14.8"/><circle cx="1425" cy="1730.7" r="14.8"/><circle cx="1427.1" cy="1730.7" r="14.8"/><circle cx="1429.3" cy="1730.7" r="14.8"/><circle cx="1431.4" cy="1730.7" r="14.8"/><circle cx="1433.6" cy="1730.7" r="14.8"/></g>
<path d="M1493.4,1626H1522.6A16.400000000000002,16.400000000000002 0 0 1 1522.6,1658.8H1493.4A16.400000000000002,16.400000000000002 0 0 1 1493.4,1626Z" fill="#00ff00"/>
<path d="M1493.4,1655.5H1522.6A16.400000000000002,16.400000000000002 0 0 1 1522.6,1688.3H1493.4A16.400000000000002,16.400000000000002 0 0 1 1493.4,1655.5Z" fill="#00ff00"/>
<path d="M1493.4,1684.8H1522.6A16.400000000000002,16.400000000000002 0 0 1 1522.6,1717.6H1493.4A16.400000000000002,16.400000000000002 0 0 1 1493.4,1684.8Z" fill="#00ff00"/>
<g fill="none" stroke="#00ff00" stroke-width="3.2"><circle cx="1496" cy="1613.3" r="14.8"/><circle cx="1505" cy="1613.3" r="14.8"/><circle cx="1522" cy="1613.3" r="14.8"/></g>
<path d="M1493.4,1714.3H1522.6A16.400000000000002,16.400000000000002 0 0 1 1522.6,1747.1H1493.4A16.400000000000002,16.400000000000002 0 0 1 1493.4,1714.3Z" fill="#00ff00"/>
<g fill="none" stroke="#ffff00" stroke-width="3.2"><circle cx="1576.6" cy="1642.4" r="14.8"/><circle cx="1578.8" cy="1642.4" r="14.8"/><circle cx="1581" cy="1642.4" r="14.8"/><circle cx="1583.2" cy="1642.4" r="14.8"/><circle cx="1585.4" cy="1642.4" r="14.8"/><circle cx="1587.5" cy="1642.4" r="14.8"/><circle cx="1589.7" cy="1642.4" r="14.8"/><circle cx="1591.9" cy="1642.4" r="14.8"/><circle cx="1594.1" cy="1642.4" r="14.8"/></g>
<g fill="none" stroke="#ffff00" stroke-width="3.2"><circle cx="1576.6" cy="1671.9" r="14.8"/><circle cx="1578.8" cy="1671.9" r="14.8"/><circle cx="1581" cy="1671.9" r="14.8"/><circle cx="1583.2" cy="1671.9" r="14.8"/><circle cx="1585.4" cy="1671.9" r="14.8"/><circle cx="1587.5" cy="1671.9" r="14.8"/><circle cx="1589.7" cy="1671.9" r="14.8"/><circle cx="1591.9" cy="1671.9" r="14.8"/><circle cx="1594.1" cy="1671.9" r="14.8"/></g>
<g fill="none" stroke="#ffff00" stroke-width="3.2"><circle cx="1576.6" cy="1701.2" r="14.8"/><circle cx="1578.8" cy="1701.2" r="14.8"/><circle cx="1581" cy="1701.2" r="14.8"/><circle cx="1583.2" cy="1701.2" r="14.8"/><circle cx="1585.4" cy="1701.2" r="14.8"/><circle cx="1587.5" cy="1701.2" r="14.8"/><circle cx="1589.7" cy="1701.2" r="14.8"/><circle cx="1591.9" cy="1701.2" r="14.8"/><circle cx="1594.1" cy="1701.2" r="14.8"/></g>
<g fill="none" stroke="#ffff00" stroke-width="3.2"><circle cx="1580" cy="1613.3" r="14.8"/><circle cx="1588" cy="1613.3" r="14.8"/><circle cx="1593" cy="1613.3" r="14.8"/></g>
<g fill="none" stroke="#ffff00" stroke-width="3.2"><circle cx="1577" cy="1730.7" r="14.8"/><circle cx="1585" cy="1730.7" r="14.8"/><circle cx="1593" cy="1730.7" r="14.8"/></g>
<g fill="none" stroke="#00ff00" stroke-width="3.2"><circle cx="1653.2" cy="1642.4" r="14.8"/><circle cx="1655.6" cy="1642.4" r="14.8"/><circle cx="1658" cy="1642.4" r="14.8"/><circle cx="1660.3" cy="1642.4" r="14.8"/><circle cx="1662.7" cy="1642.4" r="14.8"/><circle cx="1665.1" cy="1642.4" r="14.8"/><circle cx="1667.5" cy="1642.4" r="14.8"/><circle cx="1669.8" cy="1642.4" r="14.8"/><circle cx="1672.2" cy="1642.4" r="14.8"/><circle cx="1674.6" cy="1642.4" r="14.8"/></g>
<g fill="none" stroke="#00ff00" stroke-width="3.2"><circle cx="1653.2" cy="1671.9" r="14.8"/><circle cx="1655.6" cy="1671.9" r="14.8"/><circle cx="1658" cy="1671.9" r="14.8"/><circle cx="1660.3" cy="1671.9" r="14.8"/><circle cx="1662.7" cy="1671.9" r="14.8"/><circle cx="1665.1" cy="1671.9" r="14.8"/><circle cx="1667.5" cy="1671.9" r="14.8"/><circle cx="1669.8" cy="1671.9" r="14.8"/><circle cx="1672.2" cy="1671.9" r="14.8"/><circle cx="1674.6" cy="1671.9" r="14.8"/></g>
<g fill="none" stroke="#00ff00" stroke-width="3.2"><circle cx="1653.2" cy="1701.2" r="14.8"/><circle cx="1655.6" cy="1701.2" r="14.8"/><circle cx="1658" cy="1701.2" r="14.8"/><circle cx="1660.3" cy="1701.2" r="14.8"/><circle cx="1662.7" cy="1701.2" r="14.8"/><circle cx="1665.1" cy="1701.2" r="14.8"/><circle cx="1667.5" cy="1701.2" r="14.8"/><circle cx="1669.8" cy="1701.2" r="14.8"/><circle cx="1672.2" cy="1701.2" r="14.8"/><circle cx="1674.6" cy="1701.2" r="14.8"/></g>
<g fill="none" stroke="#00ff00" stroke-width="3.2"><circle cx="1653.2" cy="1613.3" r="14.8"/><circle cx="1655.6" cy="1613.3" r="14.8"/><circle cx="1658" cy="1613.3" r="14.8"/><circle cx="1660.3" cy="1613.3" r="14.8"/><circle cx="1662.7" cy="1613.3" r="14.8"/><circle cx="1665.1" cy="1613.3" r="14.8"/><circle cx="1667.5" cy="1613.3" r="14.8"/><circle cx="1669.8" cy="1613.3" r="14.8"/><circle cx="1672.2" cy="1613.3" r="14.8"/><circle cx="1674.6" cy="1613.3" r="14.8"/></g>
<g fill="none" stroke="#00ff00" stroke-width="3.2"><circle cx="1653.2" cy="1730.7" r="14.8"/><circle cx="1655.6" cy="1730.7" r="14.8"/><circle cx="1658" cy="1730.7" r="14.8"/><circle cx="1660.3" cy="1730.7" r="14.8"/><circle cx="1662.7" cy="1730.7" r="14.8"/><circle cx="1665.1" cy="1730.7" r="14.8"/><circle cx="1667.5" cy="1730.7" r="14.8"/><circle cx="1669.8" cy="1730.7" r="14.8"/><circle cx="1672.2" cy="1730.7" r="14.8"/><circle cx="1674.6" cy="1730.7" r="14.8"/></g>
<g fill="none" stroke="#ffff00" stroke-width="3.2"><circle cx="1737.2" cy="1642.4" r="14.8"/><circle cx="1739.4" cy="1642.4" r="14.8"/><circle cx="1741.5" cy="1642.4" r="14.8"/><circle cx="1743.7" cy="1642.4" r="14.8"/><circle cx="1745.8" cy="1642.4" r="14.8"/><circle cx="1748" cy="1642.4" r="14.8"/><circle cx="1750.1" cy="1642.4" r="14.8"/><circle cx="1752.3" cy="1642.4" r="14.8"/><circle cx="1754.4" cy="1642.4" r="14.8"/><circle cx="1756.6" cy="1642.4" r="14.8"/></g>
<g fill="none" stroke="#ffff00" stroke-width="3.2"><circle cx="1737.2" cy="1671.9" r="14.8"/><circle cx="1739.4" cy="1671.9" r="14.8"/><circle cx="1741.5" cy="1671.9" r="14.8"/><circle cx="1743.7" cy="1671.9" r="14.8"/><circle cx="1745.8" cy="1671.9" r="14.8"/><circle cx="1748" cy="1671.9" r="14.8"/><circle cx="1750.1" cy="1671.9" r="14.8"/><circle cx="1752.3" cy="1671.9" r="14.8"/><circle cx="1754.4" cy="1671.9" r="14.8"/><circle cx="1756.6" cy="1671.9" r="14.8"/></g>
<g fill="none" stroke="#ffff00" stroke-width="3.2"><circle cx="1737.2" cy="1701.2" r="14.8"/><circle cx="1739.4" cy="1701.2" r="14.8"/><circle cx="1741.5" cy="1701.2" r="14.8"/><circle cx="1743.7" cy="1701.2" r="14.8"/><circle cx="1745.8" cy="1701.2" r="14.8"/><circle cx="1748" cy="1701.2" r="14.8"/><circle cx="1750.1" cy="1701.2" r="14.8"/><circle cx="1752.3" cy="1701.2" r="14.8"/><circle cx="1754.4" cy="1701.2" r="14.8"/><circle cx="1756.6" cy="1701.2" r="14.8"/></g>
<g fill="none" stroke="#ffff00" stroke-width="3.2"><circle cx="1738" cy="1613.3" r="14.8"/><circle cx="1746" cy="1613.3" r="14.8"/><circle cx="1755" cy="1613.3" r="14.8"/></g>
<g fill="none" stroke="#ffff00" stroke-width="3.2"><circle cx="1740" cy="1730.7" r="14.8"/><circle cx="1748" cy="1730.7" r="14.8"/><circle cx="1756" cy="1730.7" r="14.8"/></g>
<g fill="none" stroke="#00ff00" stroke-width="3.2"><circle cx="1474" cy="1613.3" r="14.8"/></g>
<g fill="none" stroke="#00ff00" stroke-width="3.2"><circle cx="1474" cy="1642.4" r="14.8"/></g>
<g fill="none" stroke="#00ff00" stroke-width="3.2"><circle cx="1474" cy="1671.9" r="14.8"/></g>
<g fill="none" stroke="#00ff00" stroke-width="3.2"><circle cx="1474" cy="1701.2" r="14.8"/></g>
<g fill="none" stroke="#00ff00" stroke-width="3.2"><circle cx="1474" cy="1730.7" r="14.8"/></g>
<g font-size="42" fill="#262626"><text x="123.0" y="1782.7" text-anchor="end">-1</text><text x="123.0" y="1692.8" text-anchor="end">0</text><text x="123.0" y="1603.2" text-anchor="end">1</text><text x="123.0" y="1513.3" text-anchor="end">2</text><text x="134.5" y="1843.3" text-anchor="middle">0</text><text x="500.1" y="1843.3" text-anchor="middle">0.5</text><text x="865.6" y="1843.3" text-anchor="middle">1</text><text x="1231.2" y="1843.3" text-anchor="middle">1.5</text><text x="1596.8" y="1843.3" text-anchor="middle">2</text><text x="1665.5" y="1915.3" font-size="50">×</text><text x="1697.7" y="1910.3">10</text><text x="1744.0" y="1889.8" font-size="35">4</text><text transform="translate(65.8,1644.0) rotate(-90)" text-anchor="middle" font-size="46" textLength="182" lengthAdjust="spacingAndGlyphs">pressure</text></g>
<g stroke="#dedede" stroke-width="3.2"><line x1="500.1" y1="1969" x2="500.1" y2="2261.6" /><line x1="865.6" y1="1969" x2="865.6" y2="2261.6" /><line x1="1231.2" y1="1969" x2="1231.2" y2="2261.6" /><line x1="1596.8" y1="1969" x2="1596.8" y2="2261.6" /><line x1="134.5" y1="2163.8" x2="1765" y2="2163.8" /><line x1="134.5" y1="2066.7" x2="1765" y2="2066.7" /><line x1="134.5" y1="1969" x2="1765" y2="1969" /></g>
<g stroke="#262626"><path d="M134.5,1969V2261.6H1765" fill="none" stroke-width="3.8" stroke-linejoin="miter" stroke-linecap="butt"/><path d="M134.5,2261.6h15M134.5,2163.8h15M134.5,2066.7h15M134.5,1969h15M134.5,2261.6v-16M500.1,2261.6v-16M865.6,2261.6v-16M1231.2,2261.6v-16M1596.8,2261.6v-16" fill="none" stroke-width="3.4"/></g>
<path d="M134,1972 137,1978 143.4,1977 148.9,1991.7 154.4,2002.7 159.9,2000.9 164.5,1985.3 169.1,1996.3 173.7,1985.3 178.3,1991.7 180.1,2019.3 181.9,2065.2 184.7,2076 192,2055 229,2045 233.3,2072.5 237.9,2109 243,2095 248,2086 276,2075 292,2105 290,2135 300,2125 312.3,2120.3 322.4,2098.2 331.6,2174 338,2157 362,2135 372.9,2120.3 378.4,2118.4 385.7,2176 400.4,2142.3 405,2138.6 445,2138 461.4,2141.2 472,2121.7 480.9,2199 493.3,2176.6 520,2142 537.5,2137.7 555.2,2134.1 562.3,2166 571.2,2155.4 606,2138 624.3,2137.7 634.9,2127 642,2148.3 643.8,2165 660,2178 706,2162 722.7,2154.4 733.3,2150.8 771,2166 788.2,2161.4 800.6,2172 811.2,2165 848,2183 864.3,2186.2 882,2193.3 899.7,2182.7 935,2165 945.8,2186.2 951.1,2216 960,2186 974,2168.5 990,2159.7 995.4,2196.9 1022,2190 1037.9,2165 1045,2170 1055.5,2223 1073.3,2204 1100,2182 1119.3,2172 1140.5,2152.6 1147,2161 1155.6,2245 1163,2230 1190,2185 1202.5,2173.8 1208.9,2245 1221.6,2220.7 1232.3,2203.6 1268,2199 1284.3,2199.4 1283.5,2237 1300.5,2203.6 1313.3,2186.6 1345,2210 1362.3,2203.6 1380,2195 1398.5,2169.5 1405,2215 1436,2204 1449.7,2190.8 1458.2,2169.5 1500,2162 1522,2254 1539,2203.6 1556.3,2182.3 1564.8,2232 1592,2186 1609.5,2207.9 1620.2,2186.6 1635.1,2178 1643.6,2245 1672,2195 1688.4,2182.3 1697,2237 1709.7,2203.6 1720,2195 1757,2170 1765,2166" fill="none" stroke="#0072bd" stroke-width="13" stroke-linejoin="round" stroke-linecap="round"/>
<ellipse cx="137" cy="1977" rx="8" ry="11" fill="#0072bd"/>
<path d="M201.6,2047 201.6,2058" fill="none" stroke="#00ff00" stroke-width="46" stroke-linejoin="round" stroke-linecap="round"/>
<path d="M229,2042 229,2051" fill="none" stroke="#00ff00" stroke-width="32" stroke-linejoin="round" stroke-linecap="round"/>
<path d="M248.5,2081.5 248.5,2087.4" fill="none" stroke="#00ff00" stroke-width="40" stroke-linejoin="round" stroke-linecap="round"/>
<path d="M275.5,2072.5 275.5,2094.5" fill="none" stroke="#00ff00" stroke-width="33" stroke-linejoin="round" stroke-linecap="round"/>
<path d="M293,2108 288,2138" fill="none" stroke="#00ff00" stroke-width="44" stroke-linejoin="round" stroke-linecap="round"/>
<path d="M280,2095 296,2105" fill="none" stroke="#00ff00" stroke-width="40" stroke-linejoin="round" stroke-linecap="round"/>
<path d="M645,2196 672,2178 704,2163" fill="none" stroke="#00ff00" stroke-width="38" stroke-linejoin="round" stroke-linecap="round"/>
<path d="M1338,2186 1349,2236" fill="none" stroke="#ffff00" stroke-width="44" stroke-linejoin="round" stroke-linecap="round"/>
<path d="M1482,2167 1496,2167" fill="none" stroke="#00ff00" stroke-width="48" stroke-linejoin="round" stroke-linecap="round"/>
<path d="M1505,2175 1518,2250" fill="none" stroke="#00ff00" stroke-width="40" stroke-linejoin="round" stroke-linecap="round"/>
<rect x="325.2" y="2116.6" width="53.2" height="49.6" rx="22.3" fill="#00ff00"/>
<rect x="408.3" y="2116.4" width="53.1" height="46.1" rx="20.7" fill="#00ff00"/>
<rect x="486.2" y="2125.3" width="51.3" height="54.9" rx="23.1" fill="#00ff00"/>
<rect x="569.4" y="2120" width="54.9" height="45.3" rx="20.4" fill="#ffff00"/>
<rect x="742.2" y="2134.9" width="46" height="49.6" rx="20.7" fill="#ffff00"/>
<rect x="813" y="2149" width="51.3" height="51.4" rx="23.1" fill="#00ff00"/>
<rect x="898" y="2140.2" width="56.6" height="62" rx="25.5" fill="#ffff00"/>
<rect x="1231.4" y="2175.9" width="52.9" height="44.8" rx="20.2" fill="#ff0000"/>
<rect x="1720.4" y="2152.5" width="53.2" height="53.2" rx="23.9" fill="#ffff00"/>
<path d="M1004.7,2224.7 1017.9,2193.8" fill="none" stroke="#ffff00" stroke-width="40" stroke-linejoin="round" stroke-linecap="round"/>
<path d="M1086.2,2201.6 1099.3,2181.4" fill="none" stroke="#ffff00" stroke-width="40" stroke-linejoin="round" stroke-linecap="round"/>
<path d="M1165,2228.4 1186.7,2187.4" fill="none" stroke="#ffff00" stroke-width="40" stroke-linejoin="round" stroke-linecap="round"/>
<path d="M1416.4,2247.6 1431.8,2206.6" fill="none" stroke="#ff0000" stroke-width="40" stroke-linejoin="round" stroke-linecap="round"/>
<path d="M1580.5,2205 1589.5,2187.4" fill="none" stroke="#ffff00" stroke-width="40" stroke-linejoin="round" stroke-linecap="round"/>
<path d="M1657.3,2217.7 1668.4,2198" fill="none" stroke="#00ff00" stroke-width="40" stroke-linejoin="round" stroke-linecap="round"/>
<g fill="#ffffff"><ellipse cx="434.8" cy="2139.4" rx="2.8" ry="7.5" transform="rotate(15 434.8 2139.4)"/><ellipse cx="765.2" cy="2157.9" rx="2.8" ry="7.5" transform="rotate(15 765.2 2157.9)"/><ellipse cx="839.5" cy="2175.6" rx="2.8" ry="7.5" transform="rotate(15 839.5 2175.6)"/><ellipse cx="1257.9" cy="2197.2" rx="2.8" ry="7.5" transform="rotate(15 1257.9 2197.2)"/><ellipse cx="697.9" cy="2165" rx="2.8" ry="7.5" transform="rotate(15 697.9 2165)"/></g><g fill="#0072bd"><ellipse cx="434.8" cy="2139.4" rx="2.4" ry="5" transform="rotate(15 434.8 2139.4)"/><ellipse cx="765.2" cy="2157.9" rx="2.4" ry="5" transform="rotate(15 765.2 2157.9)"/><ellipse cx="839.5" cy="2175.6" rx="2.4" ry="5" transform="rotate(15 839.5 2175.6)"/><ellipse cx="1257.9" cy="2197.2" rx="2.4" ry="5" transform="rotate(15 1257.9 2197.2)"/><ellipse cx="697.9" cy="2165" rx="2.4" ry="5" transform="rotate(15 697.9 2165)"/></g>
<g fill="#0072bd"><circle cx="1473.1" cy="2169.5" r="5.5"/></g>
<g font-size="42" fill="#262626"><text x="123.0" y="2277.6" text-anchor="end">65</text><text x="123.0" y="2179.8" text-anchor="end">70</text><text x="123.0" y="2082.7" text-anchor="end">75</text><text x="123.0" y="1985.0" text-anchor="end">80</text><text x="134.5" y="2315.1" text-anchor="middle">0</text><text x="500.1" y="2315.1" text-anchor="middle">0.5</text><text x="865.6" y="2315.1" text-anchor="middle">1</text><text x="1231.2" y="2315.1" text-anchor="middle">1.5</text><text x="1596.8" y="2315.1" text-anchor="middle">2</text><text x="1665.5" y="2387.1" font-size="50">×</text><text x="1697.7" y="2382.1">10</text><text x="1744.0" y="2361.6" font-size="35">4</text><text transform="translate(56.8,2115.1) rotate(-90)" text-anchor="middle" font-size="46" textLength="252" lengthAdjust="spacingAndGlyphs">temperature</text></g>
<g stroke="#dedede" stroke-width="3.2"><line x1="500.1" y1="2455.8" x2="500.1" y2="2734.5" /><line x1="865.6" y1="2455.8" x2="865.6" y2="2734.5" /><line x1="1231.2" y1="2455.8" x2="1231.2" y2="2734.5" /><line x1="1596.8" y1="2455.8" x2="1596.8" y2="2734.5" /><line x1="134.5" y1="2595.2" x2="1765" y2="2595.2" /><line x1="134.5" y1="2455.8" x2="1765" y2="2455.8" /></g>
<g stroke="#262626"><path d="M134.5,2455.8V2734.5H1765" fill="none" stroke-width="3.8" stroke-linejoin="miter" stroke-linecap="butt"/><path d="M134.5,2734.5h15M134.5,2595.2h15M134.5,2455.8h15M134.5,2734.5v-16M500.1,2734.5v-16M865.6,2734.5v-16M1231.2,2734.5v-16M1596.8,2734.5v-16" fill="none" stroke-width="3.4"/></g>
<path d="M137.4,2446 149.8,2446 160.4,2458.3 172.8,2465.4 180,2467 183.4,2446 186,2469 210,2470 226,2486 250,2492 270,2495 300,2508 316.2,2511.4 326,2512 328.6,2484 331,2512 345,2522 360,2532 378.2,2522 385.3,2497 389,2526 394.1,2532.7 404.7,2522 425,2525 443,2531 459.6,2532.7 473.8,2546.9 482.6,2534.5 490,2540 503,2543 522,2556 538.6,2561 553.5,2554 564.1,2575.2 588,2575 605,2582 624.3,2585.8 643,2580 665,2590 690,2598 706,2604 722.7,2601.4 736.9,2606.8 760,2608 770,2612 788.2,2613.8 800.6,2612 813,2615.6 830,2618 846,2610 864.3,2615.6 882,2621 898,2626.2 915,2626 937,2626 954.6,2626.2 970.6,2629.8 984.7,2626.2 1003,2630 1018,2630 1036,2636.9 1052,2629.8 1066.2,2636.9 1085,2637 1101,2638 1119.3,2644 1137,2645.7 1163,2645 1190,2642 1206.7,2649.7 1219.5,2645.4 1230.2,2654 1250,2655 1266,2657 1284.3,2649.7 1300.5,2658.2 1333,2662 1348,2663 1370,2665 1385.8,2668.9 1405,2662 1407,2652 1410,2668 1416,2670 1432,2670 1450.5,2675.3 1460,2685 1476,2685 1498,2688 1522,2696 1539.2,2694.4 1554,2696.6 1578,2697 1592,2697 1609.5,2703 1624.5,2698.7 1637.3,2705 1654,2707 1674,2709 1691.8,2711.5 1703.3,2713.6 1716,2705 1738,2716 1755,2718 1765,2718" fill="none" stroke="#0072bd" stroke-width="16" stroke-linejoin="round" stroke-linecap="round"/>
<ellipse cx="141" cy="2446" rx="11" ry="9" fill="#0072bd"/>
<path d="M193,2473 211,2472 226,2488" fill="none" stroke="#00ff00" stroke-width="40" stroke-linejoin="round" stroke-linecap="round"/>
<path d="M226,2488 250,2494 276,2509 298,2509" fill="none" stroke="#00ff00" stroke-width="38" stroke-linejoin="round" stroke-linecap="round"/>
<path d="M284,2470 284,2482 276,2500" fill="none" stroke="#00ff00" stroke-width="34" stroke-linejoin="round" stroke-linecap="round"/>
<path d="M645,2580 672,2594 703,2603" fill="none" stroke="#00ff00" stroke-width="38" stroke-linejoin="round" stroke-linecap="round"/>
<path d="M345,2524.4 358.2,2528.6" fill="none" stroke="#00ff00" stroke-width="40" stroke-linejoin="round" stroke-linecap="round"/>
<path d="M428.3,2526.1 439.6,2530.4" fill="none" stroke="#00ff00" stroke-width="40" stroke-linejoin="round" stroke-linecap="round"/>
<path d="M506.2,2547.4 518.6,2551.6" fill="none" stroke="#00ff00" stroke-width="40" stroke-linejoin="round" stroke-linecap="round"/>
<path d="M589.4,2575.7 604.3,2581.7" fill="none" stroke="#ffff00" stroke-width="40" stroke-linejoin="round" stroke-linecap="round"/>
<path d="M761.7,2610.3 768.7,2610.3" fill="none" stroke="#ffff00" stroke-width="39" stroke-linejoin="round" stroke-linecap="round"/>
<path d="M834,2616.9 844.3,2612.6" fill="none" stroke="#00ff00" stroke-width="40" stroke-linejoin="round" stroke-linecap="round"/>
<path d="M919.2,2626.2 933.4,2626.2" fill="none" stroke="#ffff00" stroke-width="42.5" stroke-linejoin="round" stroke-linecap="round"/>
<path d="M1004.1,2629.8 1016.6,2629.8" fill="none" stroke="#ffff00" stroke-width="38.9" stroke-linejoin="round" stroke-linecap="round"/>
<path d="M1086.5,2637.8 1099,2637.8" fill="none" stroke="#ffff00" stroke-width="40.7" stroke-linejoin="round" stroke-linecap="round"/>
<path d="M1165.7,2643.9 1186,2643.9" fill="none" stroke="#ffff00" stroke-width="41.4" stroke-linejoin="round" stroke-linecap="round"/>
<path d="M1251.4,2654.8 1264.3,2657.4" fill="none" stroke="#ff0000" stroke-width="40" stroke-linejoin="round" stroke-linecap="round"/>
<path d="M1333.2,2662.4 1348.3,2662.4" fill="none" stroke="#ffff00" stroke-width="38.3" stroke-linejoin="round" stroke-linecap="round"/>
<path d="M1418,2669.9 1430.2,2669.9" fill="none" stroke="#ff0000" stroke-width="40.5" stroke-linejoin="round" stroke-linecap="round"/>
<path d="M1477.4,2685.9 1519.2,2693.6" fill="none" stroke="#00ff00" stroke-width="40" stroke-linejoin="round" stroke-linecap="round"/>
<path d="M1580.3,2697.2 1589.7,2697.2" fill="none" stroke="#ffff00" stroke-width="39.6" stroke-linejoin="round" stroke-linecap="round"/>
<path d="M1656.4,2708 1671.8,2708.5" fill="none" stroke="#00ff00" stroke-width="40" stroke-linejoin="round" stroke-linecap="round"/>
<path d="M1739.5,2716.6 1753.6,2717" fill="none" stroke="#ffff00" stroke-width="40" stroke-linejoin="round" stroke-linecap="round"/>
<g fill="#ffffff"><ellipse cx="1257.9" cy="2656" rx="2.8" ry="7.5" transform="rotate(15 1257.9 2656)"/><ellipse cx="1341" cy="2664.6" rx="2.8" ry="7.5" transform="rotate(15 1341 2664.6)"/><ellipse cx="1424.1" cy="2671" rx="2.8" ry="7.5" transform="rotate(15 1424.1 2671)"/><ellipse cx="1474.4" cy="2681.6" rx="2.8" ry="7.5" transform="rotate(15 1474.4 2681.6)"/><ellipse cx="1515.8" cy="2694.4" rx="2.8" ry="7.5" transform="rotate(15 1515.8 2694.4)"/><ellipse cx="1585.2" cy="2696.6" rx="2.8" ry="7.5" transform="rotate(15 1585.2 2696.6)"/><ellipse cx="1663.7" cy="2709.4" rx="2.8" ry="7.5" transform="rotate(15 1663.7 2709.4)"/><ellipse cx="1746" cy="2715.7" rx="2.8" ry="7.5" transform="rotate(15 1746 2715.7)"/><ellipse cx="698.6" cy="2601.4" rx="2.8" ry="7.5" transform="rotate(15 698.6 2601.4)"/><ellipse cx="765.2" cy="2610.3" rx="2.8" ry="7.5" transform="rotate(15 765.2 2610.3)"/><ellipse cx="839.5" cy="2614.9" rx="2.8" ry="7.5" transform="rotate(15 839.5 2614.9)"/><ellipse cx="926.3" cy="2626.2" rx="2.8" ry="7.5" transform="rotate(15 926.3 2626.2)"/><ellipse cx="1009.5" cy="2631.5" rx="2.8" ry="7.5" transform="rotate(15 1009.5 2631.5)"/><ellipse cx="1092.7" cy="2638.6" rx="2.8" ry="7.5" transform="rotate(15 1092.7 2638.6)"/><ellipse cx="351.6" cy="2525.6" rx="2.8" ry="7.5" transform="rotate(15 351.6 2525.6)"/><ellipse cx="434.8" cy="2525.6" rx="2.8" ry="7.5" transform="rotate(15 434.8 2525.6)"/><ellipse cx="512.7" cy="2550.4" rx="2.8" ry="7.5" transform="rotate(15 512.7 2550.4)"/><ellipse cx="596" cy="2578.7" rx="2.8" ry="7.5" transform="rotate(15 596 2578.7)"/></g><g fill="#0072bd"><ellipse cx="1257.9" cy="2656" rx="2.4" ry="5" transform="rotate(15 1257.9 2656)"/><ellipse cx="1341" cy="2664.6" rx="2.4" ry="5" transform="rotate(15 1341 2664.6)"/><ellipse cx="1424.1" cy="2671" rx="2.4" ry="5" transform="rotate(15 1424.1 2671)"/><ellipse cx="1474.4" cy="2681.6" rx="2.4" ry="5" transform="rotate(15 1474.4 2681.6)"/><ellipse cx="1515.8" cy="2694.4" rx="2.4" ry="5" transform="rotate(15 1515.8 2694.4)"/><ellipse cx="1585.2" cy="2696.6" rx="2.4" ry="5" transform="rotate(15 1585.2 2696.6)"/><ellipse cx="1663.7" cy="2709.4" rx="2.4" ry="5" transform="rotate(15 1663.7 2709.4)"/><ellipse cx="1746" cy="2715.7" rx="2.4" ry="5" transform="rotate(15 1746 2715.7)"/><ellipse cx="698.6" cy="2601.4" rx="2.4" ry="5" transform="rotate(15 698.6 2601.4)"/><ellipse cx="765.2" cy="2610.3" rx="2.4" ry="5" transform="rotate(15 765.2 2610.3)"/><ellipse cx="839.5" cy="2614.9" rx="2.4" ry="5" transform="rotate(15 839.5 2614.9)"/><ellipse cx="926.3" cy="2626.2" rx="2.4" ry="5" transform="rotate(15 926.3 2626.2)"/><ellipse cx="1009.5" cy="2631.5" rx="2.4" ry="5" transform="rotate(15 1009.5 2631.5)"/><ellipse cx="1092.7" cy="2638.6" rx="2.4" ry="5" transform="rotate(15 1092.7 2638.6)"/><ellipse cx="351.6" cy="2525.6" rx="2.4" ry="5" transform="rotate(15 351.6 2525.6)"/><ellipse cx="434.8" cy="2525.6" rx="2.4" ry="5" transform="rotate(15 434.8 2525.6)"/><ellipse cx="512.7" cy="2550.4" rx="2.4" ry="5" transform="rotate(15 512.7 2550.4)"/><ellipse cx="596" cy="2578.7" rx="2.4" ry="5" transform="rotate(15 596 2578.7)"/></g>
<g font-size="42" fill="#262626"><text x="123.0" y="2750.5" text-anchor="end">24</text><text x="123.0" y="2611.2" text-anchor="end">25</text><text x="123.0" y="2471.8" text-anchor="end">26</text><text x="134.5" y="2788.0" text-anchor="middle">0</text><text x="500.1" y="2788.0" text-anchor="middle">0.5</text><text x="865.6" y="2788.0" text-anchor="middle">1</text><text x="1231.2" y="2788.0" text-anchor="middle">1.5</text><text x="1596.8" y="2788.0" text-anchor="middle">2</text><text x="1665.5" y="2860.0" font-size="50">×</text><text x="1697.7" y="2855.0">10</text><text x="1744.0" y="2834.5" font-size="35">4</text><text transform="translate(56.8,2588.1) rotate(-90)" text-anchor="middle" font-size="46" textLength="282.5" lengthAdjust="spacingAndGlyphs">thermocouple</text></g>
</svg></body></html>
